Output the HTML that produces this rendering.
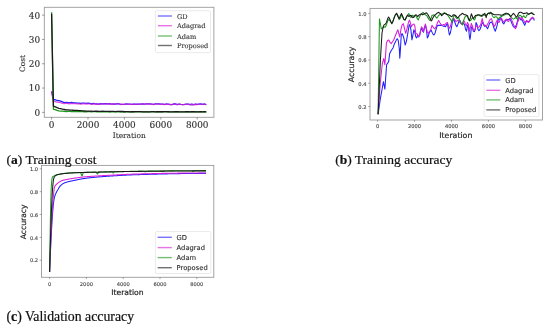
<!DOCTYPE html>
<html><head><meta charset="utf-8"><title>Figure</title>
<style>
html,body{margin:0;padding:0;background:#fff;}
body{width:550px;height:331px;overflow:hidden;}
svg{display:block;filter:blur(0.35px);}
.sf{font-family:"DejaVu Serif","Liberation Serif",serif;}
.ss{font-family:"DejaVu Sans","Liberation Sans",sans-serif;}
.tk{font-size:8.9px;fill:#333;stroke:#333;stroke-width:0.15px;}
.al{font-size:7.45px;fill:#333;stroke:#333;stroke-width:0.1px;}
.lg{font-size:6.62px;fill:#333;stroke:#333;stroke-width:0.1px;}
.tk2{font-size:5.2px;fill:#444;stroke:#444;stroke-width:0.12px;}
.al2{font-size:7.8px;fill:#222;stroke:#222;stroke-width:0.18px;}
.lg2{font-size:6.75px;fill:#333;stroke:#333;stroke-width:0.14px;}
.tk3{font-size:5.15px;fill:#444;stroke:#444;stroke-width:0.12px;}
.al3{font-size:7.65px;fill:#222;stroke:#222;stroke-width:0.18px;}
.lg3{font-size:6.75px;fill:#333;stroke:#333;stroke-width:0.14px;}
.cap{font-family:"Liberation Serif",serif;font-size:13.5px;fill:#111;stroke:#111;stroke-width:0.2px;}
.bd{font-weight:bold;}
</style></head>
<body>
<svg width="550" height="331" viewBox="0 0 550 331">
<rect x="44.3" y="7.3" width="169.60000000000002" height="110.0" fill="none" stroke="#9a9a9a" stroke-width="0.9"/>
<path d="M51.60,91.45 L53.42,99.71 L55.24,99.77 L57.06,100.49 L58.88,100.70 L60.70,101.11 L62.52,101.94 L64.34,102.60 L66.16,102.34 L67.98,102.64 L69.80,102.94 L71.62,102.32 L73.44,102.82 L75.26,102.80 L77.08,103.12 L78.90,103.08 L80.72,103.48 L82.54,103.20 L84.36,103.11 L86.18,103.41 L88.00,103.22 L89.82,103.46 L91.64,103.99 L93.46,103.46 L95.28,103.79 L97.10,103.99 L98.92,104.20 L100.74,103.61 L102.56,103.92 L104.38,103.76 L106.20,103.66 L108.02,103.80 L109.84,103.66 L111.66,104.06 L113.48,103.79 L115.30,104.06 L117.12,103.72 L118.94,103.78 L120.76,104.37 L122.58,104.36 L124.40,104.32 L126.22,103.78 L128.04,104.17 L129.86,104.04 L131.68,104.28 L133.50,104.14 L135.32,104.23 L137.14,104.26 L138.96,104.10 L140.78,104.10 L142.60,103.88 L144.42,104.04 L146.24,103.87 L148.06,103.93 L149.88,103.84 L151.70,104.08 L153.52,104.45 L155.34,103.95 L157.16,103.88 L158.98,103.93 L160.80,104.18 L162.62,104.08 L164.44,104.45 L166.26,104.01 L168.08,104.20 L169.90,104.42 L171.72,104.58 L173.54,104.01 L175.36,103.92 L177.18,104.58 L179.00,104.07 L180.82,104.36 L182.64,104.56 L184.46,104.46 L186.28,104.12 L188.10,104.05 L189.92,104.66 L191.74,104.25 L193.56,104.67 L195.38,104.18 L197.20,104.47 L199.02,104.08 L200.84,104.01 L202.66,104.36 L204.48,104.01 L206.30,104.52" fill="none" stroke="#1f1fff" stroke-opacity="1" stroke-width="1.3" stroke-linejoin="round"/>
<path d="M51.60,91.45 L53.42,101.36 L55.24,101.59 L57.06,102.16 L58.88,102.43 L60.70,102.66 L62.52,103.31 L64.34,103.59 L66.16,103.15 L67.98,103.65 L69.80,103.74 L71.62,103.26 L73.44,103.72 L75.26,103.53 L77.08,103.86 L78.90,103.82 L80.72,104.23 L82.54,103.89 L84.36,103.73 L86.18,103.99 L88.00,103.85 L89.82,103.91 L91.64,104.37 L93.46,103.87 L95.28,104.01 L97.10,104.23 L98.92,104.44 L100.74,103.84 L102.56,104.13 L104.38,103.96 L106.20,103.85 L108.02,103.98 L109.84,103.84 L111.66,104.23 L113.48,103.94 L115.30,104.21 L117.12,103.86 L118.94,103.91 L120.76,104.49 L122.58,104.47 L124.40,104.42 L126.22,103.88 L128.04,104.27 L129.86,104.13 L131.68,104.38 L133.50,104.23 L135.32,104.33 L137.14,104.36 L138.96,104.19 L140.78,104.20 L142.60,103.97 L144.42,104.14 L146.24,103.96 L148.06,104.02 L149.88,103.93 L151.70,104.17 L153.52,104.54 L155.34,104.04 L157.16,103.97 L158.98,104.02 L160.80,104.27 L162.62,104.17 L164.44,104.54 L166.26,104.09 L168.08,104.29 L169.90,104.50 L171.72,104.67 L173.54,104.10 L175.36,104.00 L177.18,104.67 L179.00,104.15 L180.82,104.44 L182.64,104.64 L184.46,104.54 L186.28,104.20 L188.10,104.13 L189.92,104.74 L191.74,104.33 L193.56,104.75 L195.38,104.26 L197.20,104.55 L199.02,104.15 L200.84,104.09 L202.66,104.44 L204.48,104.08 L206.30,104.59" fill="none" stroke="#d81ed8" stroke-opacity="0.78" stroke-width="1.3" stroke-linejoin="round"/>
<path d="M51.60,12.23 L53.42,109.36 L55.24,109.72 L57.06,110.36 L58.88,110.88 L60.70,111.16 L62.52,111.20 L64.34,111.31 L66.16,111.48 L67.98,111.37 L69.80,111.41 L71.62,111.58 L73.44,111.48 L75.26,111.56 L77.08,111.54 L78.90,111.66 L80.72,111.58 L82.54,111.58 L84.36,111.76 L86.18,111.76 L88.00,111.62 L89.82,111.56 L91.64,111.74 L93.46,111.69 L95.28,111.67 L97.10,111.74 L98.92,111.74 L100.74,111.76 L102.56,111.75 L104.38,111.71 L106.20,111.79 L108.02,111.78 L109.84,111.69 L111.66,111.88 L113.48,111.75 L115.30,111.72 L117.12,111.83 L118.94,111.86 L120.76,111.73 L122.58,111.87 L124.40,111.89 L126.22,111.83 L128.04,111.77 L129.86,111.92 L131.68,111.86 L133.50,111.86 L135.32,111.74 L137.14,111.84 L138.96,111.74 L140.78,111.91 L142.60,111.87 L144.42,111.79 L146.24,111.73 L148.06,111.84 L149.88,111.90 L151.70,111.92 L153.52,111.83 L155.34,111.91 L157.16,111.76 L158.98,111.75 L160.80,111.91 L162.62,111.89 L164.44,111.76 L166.26,111.81 L168.08,111.77 L169.90,111.88 L171.72,111.93 L173.54,111.90 L175.36,111.77 L177.18,111.90 L179.00,111.89 L180.82,111.87 L182.64,111.87 L184.46,111.87 L186.28,111.75 L188.10,111.94 L189.92,111.97 L191.74,111.75 L193.56,111.76 L195.38,111.74 L197.20,111.87 L199.02,111.75 L200.84,111.76 L202.66,111.93 L204.48,111.80 L206.30,111.78" fill="none" stroke="#1e961e" stroke-opacity="1" stroke-width="1.3" stroke-linejoin="round"/>
<path d="M51.60,13.69 L53.42,106.09 L55.24,106.83 L57.06,107.59 L58.88,108.28 L60.70,108.74 L62.52,109.21 L64.34,109.51 L66.16,109.86 L67.98,109.85 L69.80,110.16 L71.62,110.07 L73.44,110.24 L75.26,110.31 L77.08,110.43 L78.90,110.55 L80.72,110.71 L82.54,110.92 L84.36,110.82 L86.18,111.03 L88.00,111.08 L89.82,111.07 L91.64,111.17 L93.46,111.28 L95.28,111.17 L97.10,111.27 L98.92,111.36 L100.74,111.40 L102.56,111.27 L104.38,111.39 L106.20,111.33 L108.02,111.46 L109.84,111.52 L111.66,111.45 L113.48,111.41 L115.30,111.58 L117.12,111.45 L118.94,111.44 L120.76,111.49 L122.58,111.51 L124.40,111.73 L126.22,111.60 L128.04,111.56 L129.86,111.78 L131.68,111.73 L133.50,111.73 L135.32,111.67 L137.14,111.70 L138.96,111.69 L140.78,111.62 L142.60,111.81 L144.42,111.80 L146.24,111.79 L148.06,111.79 L149.88,111.81 L151.70,111.59 L153.52,111.62 L155.34,111.81 L157.16,111.71 L158.98,111.76 L160.80,111.76 L162.62,111.76 L164.44,111.69 L166.26,111.71 L168.08,111.76 L169.90,111.81 L171.72,111.78 L173.54,111.83 L175.36,111.73 L177.18,111.69 L179.00,111.78 L180.82,111.85 L182.64,111.83 L184.46,111.79 L186.28,111.73 L188.10,111.69 L189.92,111.79 L191.74,111.69 L193.56,111.74 L195.38,111.79 L197.20,111.81 L199.02,111.78 L200.84,111.73 L202.66,111.80 L204.48,111.74 L206.30,111.80" fill="none" stroke="#1a1a1a" stroke-opacity="1" stroke-width="1.3" stroke-linejoin="round"/>
<line x1="51.60" y1="117.3" x2="51.60" y2="119.5" stroke="#555" stroke-width="0.6"/>
<text x="51.60" y="128.2" class="sf tk" text-anchor="middle">0</text>
<line x1="88.00" y1="117.3" x2="88.00" y2="119.5" stroke="#555" stroke-width="0.6"/>
<text x="88.00" y="128.2" class="sf tk" text-anchor="middle">2000</text>
<line x1="124.40" y1="117.3" x2="124.40" y2="119.5" stroke="#555" stroke-width="0.6"/>
<text x="124.40" y="128.2" class="sf tk" text-anchor="middle">4000</text>
<line x1="160.80" y1="117.3" x2="160.80" y2="119.5" stroke="#555" stroke-width="0.6"/>
<text x="160.80" y="128.2" class="sf tk" text-anchor="middle">6000</text>
<line x1="197.20" y1="117.3" x2="197.20" y2="119.5" stroke="#555" stroke-width="0.6"/>
<text x="197.20" y="128.2" class="sf tk" text-anchor="middle">8000</text>
<line x1="42.099999999999994" y1="112.35" x2="44.3" y2="112.35" stroke="#555" stroke-width="0.6"/>
<text x="40.099999999999994" y="115.70" class="sf tk" text-anchor="end">0</text>
<line x1="42.099999999999994" y1="88.05" x2="44.3" y2="88.05" stroke="#555" stroke-width="0.6"/>
<text x="40.099999999999994" y="91.40" class="sf tk" text-anchor="end">10</text>
<line x1="42.099999999999994" y1="63.75" x2="44.3" y2="63.75" stroke="#555" stroke-width="0.6"/>
<text x="40.099999999999994" y="67.10" class="sf tk" text-anchor="end">20</text>
<line x1="42.099999999999994" y1="39.45" x2="44.3" y2="39.45" stroke="#555" stroke-width="0.6"/>
<text x="40.099999999999994" y="42.80" class="sf tk" text-anchor="end">30</text>
<line x1="42.099999999999994" y1="15.15" x2="44.3" y2="15.15" stroke="#555" stroke-width="0.6"/>
<text x="40.099999999999994" y="18.50" class="sf tk" text-anchor="end">40</text>
<text x="129.2" y="138.2" class="sf al" text-anchor="middle">Iteration</text>
<text transform="translate(25.3,63.4) rotate(-90)" class="sf al" text-anchor="middle">Cost</text>
<rect x="155.3" y="10.7" width="55.2" height="41.9" rx="1.5" fill="#fff" fill-opacity="0.8" stroke="#dcdcdc" stroke-width="0.6"/>
<line x1="157.9" y1="16.0" x2="171.9" y2="16.0" stroke="#1f1fff" stroke-width="1.4" stroke-opacity="0.62"/>
<text x="177.0" y="18.60" class="sf lg">GD</text>
<line x1="157.9" y1="25.7" x2="171.9" y2="25.7" stroke="#d81ed8" stroke-width="1.4" stroke-opacity="0.62"/>
<text x="177.0" y="28.30" class="sf lg">Adagrad</text>
<line x1="157.9" y1="36.0" x2="171.9" y2="36.0" stroke="#1e961e" stroke-width="1.4" stroke-opacity="0.62"/>
<text x="177.0" y="38.60" class="sf lg">Adam</text>
<line x1="157.9" y1="45.5" x2="171.9" y2="45.5" stroke="#1a1a1a" stroke-width="1.4" stroke-opacity="0.62"/>
<text x="177.0" y="48.10" class="sf lg">Proposed</text>
<rect x="370.0" y="8.4" width="172.5" height="111.6" fill="none" stroke="#9a9a9a" stroke-width="0.9"/>
<path d="M378.10,114.20 L380.20,99.70 L382.30,88.00 L383.40,81.70 L384.90,89.10 L386.60,64.80 L388.70,61.60 L389.60,53.80 L391.10,50.80 L392.30,49.00 L393.05,47.95 L394.26,44.21 L395.47,41.79 L396.67,39.38 L397.20,38.77 L398.20,40.34 L399.30,48.55 L399.80,58.33 L400.30,51.57 L401.29,34.19 L402.30,33.71 L403.90,38.29 L405.20,45.05 L406.40,41.43 L408.00,32.14 L409.22,24.53 L409.97,25.26 L410.97,30.20 L411.93,39.85 L412.90,35.03 L413.86,29.72 L414.83,32.13 L415.79,36.96 L416.76,37.92 L417.72,35.03 L418.69,36.96 L419.65,35.03 L420.62,30.68 L421.58,27.79 L422.55,31.17 L423.51,32.13 L424.48,27.31 L425.44,25.86 L426.41,29.72 L427.37,37.92 L428.34,35.99 L429.31,32.61 L430.27,31.17 L431.24,30.20 L432.00,32.13 L432.97,34.06 L433.93,35.03 L434.90,33.58 L435.86,30.20 L436.83,26.82 L437.79,25.37 L438.76,25.37 L439.72,25.37 L440.69,25.37 L441.65,25.37 L442.62,25.86 L443.58,26.34 L444.55,26.34 L445.51,26.82 L446.48,24.89 L447.44,23.44 L448.41,29.24 L449.37,35.03 L450.34,33.10 L451.31,28.27 L452.27,22.48 L453.24,19.58 L454.00,19.58 L454.97,22.48 L455.93,25.37 L456.90,26.82 L457.86,24.41 L458.83,21.51 L459.79,20.55 L460.76,22.48 L461.72,23.93 L462.69,23.44 L463.65,23.44 L464.62,24.89 L465.58,29.24 L466.55,31.17 L467.51,25.37 L468.48,27.31 L469.44,36.96 L469.93,39.37 L470.41,36.96 L471.37,27.31 L472.34,26.34 L473.31,31.17 L474.27,31.65 L475.24,29.72 L476.00,22.48 L476.97,24.41 L477.93,29.24 L478.90,30.68 L479.86,29.72 L480.83,27.31 L481.79,23.93 L482.76,22.48 L483.72,24.89 L484.69,26.34 L485.65,25.86 L486.62,27.31 L487.58,28.75 L488.55,26.34 L489.51,23.44 L490.48,22.48 L491.44,22.00 L492.41,23.44 L493.37,26.34 L494.34,29.24 L495.31,31.17 L496.27,28.27 L497.24,24.89 L498.00,19.58 L498.97,20.07 L499.93,18.62 L500.90,17.65 L501.86,20.07 L502.83,22.96 L503.79,23.93 L504.76,22.00 L505.72,20.55 L506.69,20.07 L507.65,19.58 L508.62,19.58 L509.58,18.62 L510.55,20.07 L511.51,22.48 L512.48,24.89 L513.44,26.82 L514.41,27.31 L515.37,26.82 L516.34,24.89 L517.31,22.00 L517.99,18.86 L518.97,17.17 L519.93,18.62 L520.90,20.07 L521.86,19.58 L522.83,21.51 L523.79,23.44 L524.76,25.37 L525.72,22.48 L526.69,20.55 L527.65,21.51 L528.62,22.00 L529.58,21.03 L530.55,19.58 L531.51,18.62 L532.48,17.65 L533.44,18.62 L534.41,20.55" fill="none" stroke="#1f1fff" stroke-width="1.05" stroke-linejoin="round"/>
<path d="M378.10,114.20 L380.20,83.80 L382.30,63.70 L383.80,58.50 L384.90,64.80 L386.41,43.00 L387.62,40.59 L388.83,39.98 L390.03,42.40 L391.24,43.60 L392.45,41.79 L393.65,39.98 L394.86,36.96 L396.07,33.95 L397.03,31.53 L397.88,29.72 L398.72,33.34 L399.69,36.96 L400.90,29.72 L402.10,24.90 L403.31,23.69 L404.52,28.52 L405.72,33.34 L406.93,29.12 L408.14,23.69 L409.34,20.07 L409.97,21.27 L411.45,26.82 L412.41,24.89 L413.86,23.93 L414.83,25.86 L415.79,33.58 L417.24,34.06 L418.20,36.47 L419.65,35.51 L420.62,30.20 L421.58,26.82 L422.55,28.75 L423.51,31.65 L424.48,26.82 L425.44,23.93 L426.41,28.27 L427.37,32.13 L428.34,33.58 L429.31,31.65 L430.75,29.72 L432.00,25.37 L432.97,26.82 L433.93,28.27 L434.90,28.75 L435.86,27.31 L436.83,24.41 L437.79,22.00 L438.76,20.55 L439.72,22.48 L440.69,23.93 L441.65,25.37 L442.62,24.89 L443.58,24.41 L444.55,25.37 L445.51,23.93 L446.48,22.96 L447.44,22.48 L448.41,25.86 L449.37,28.27 L450.34,26.82 L451.31,22.96 L452.27,19.58 L453.24,18.62 L454.00,18.62 L454.97,20.07 L455.93,21.51 L456.90,21.03 L457.86,20.07 L458.83,20.55 L459.79,22.48 L460.76,23.44 L461.72,23.93 L462.69,22.48 L463.65,20.55 L464.62,22.00 L465.58,24.41 L466.55,25.86 L467.51,22.48 L468.48,24.41 L469.44,31.17 L470.41,27.31 L471.37,23.44 L472.34,25.86 L473.31,30.20 L474.27,30.68 L475.24,28.75 L476.00,25.37 L476.97,26.34 L477.93,27.31 L478.90,27.31 L479.86,25.86 L480.83,24.41 L481.79,20.07 L482.27,18.62 L482.76,21.51 L483.72,24.41 L484.69,25.86 L485.65,25.37 L486.62,26.34 L487.58,23.93 L488.55,22.48 L489.51,20.55 L490.48,19.10 L491.44,18.62 L492.41,21.51 L493.37,24.41 L494.34,26.34 L495.31,24.89 L496.27,22.00 L497.24,20.07 L498.00,22.00 L498.97,22.48 L499.93,20.55 L500.90,18.14 L501.86,19.10 L502.83,21.03 L503.79,22.00 L504.76,20.55 L505.72,19.58 L506.69,19.10 L507.65,21.03 L508.62,21.51 L509.58,19.10 L510.55,18.14 L511.51,19.58 L512.48,22.00 L513.44,24.41 L514.41,26.82 L515.37,28.75 L516.34,27.31 L517.31,23.44 L517.99,20.07 L518.48,21.03 L518.97,18.62 L519.93,17.65 L520.90,19.10 L521.86,17.17 L522.83,19.10 L523.79,20.55 L524.76,22.48 L525.72,21.51 L526.69,20.55 L527.65,22.00 L528.62,22.48 L529.58,20.55 L530.55,19.10 L531.51,18.14 L532.48,17.17 L533.44,18.14 L534.41,19.10" fill="none" stroke="#d81ed8" stroke-width="1.05" stroke-linejoin="round"/>
<path d="M378.10,114.20 L379.45,18.90 L381.30,28.90 L383.10,27.40 L384.00,26.71 L385.21,27.31 L386.41,24.90 L387.62,21.28 L388.59,19.47 L389.43,20.07 L390.64,21.88 L391.84,23.09 L393.05,20.67 L394.26,17.05 L395.47,14.64 L396.67,13.43 L397.88,15.24 L399.09,19.47 L400.29,18.26 L401.50,14.64 L402.71,17.05 L403.91,19.47 L405.12,20.07 L406.33,17.65 L407.53,15.24 L408.74,13.43 L409.97,16.21 L410.97,17.65 L411.93,15.72 L412.90,15.24 L413.86,16.69 L414.83,15.24 L415.79,15.72 L417.24,18.62 L418.20,20.07 L419.17,17.65 L420.14,15.72 L421.10,14.27 L422.07,13.31 L423.03,12.34 L424.00,13.31 L424.96,14.27 L425.93,15.24 L426.89,15.72 L427.86,17.65 L428.82,19.10 L429.79,20.55 L430.75,19.58 L432.00,15.24 L432.97,15.24 L433.93,14.76 L434.90,15.72 L435.86,17.17 L436.83,18.14 L437.79,16.69 L438.76,15.24 L439.72,14.76 L440.69,14.27 L441.65,14.27 L442.62,13.79 L443.58,13.31 L444.55,12.83 L445.51,13.31 L446.48,13.79 L447.44,14.76 L448.41,16.20 L449.37,17.65 L450.34,19.10 L451.31,20.55 L451.79,22.00 L452.46,20.55 L453.24,17.65 L454.00,15.24 L454.97,15.72 L455.93,17.65 L456.90,18.62 L457.86,18.14 L458.83,17.65 L459.79,20.55 L460.76,22.48 L461.72,23.93 L462.69,24.89 L463.65,20.55 L464.62,17.65 L465.58,16.20 L466.55,15.72 L467.51,16.69 L468.48,19.58 L469.44,21.03 L470.41,20.55 L471.37,19.58 L472.34,17.65 L473.31,18.62 L474.27,20.07 L475.24,18.62 L476.00,15.72 L476.97,15.72 L477.93,15.24 L478.90,15.24 L479.86,15.72 L480.83,16.20 L481.79,15.72 L482.76,14.27 L483.72,14.76 L484.69,15.24 L485.65,15.24 L486.62,14.76 L487.58,13.79 L488.55,13.31 L489.51,12.83 L490.48,12.34 L491.44,12.83 L492.41,15.72 L493.37,17.17 L494.34,17.65 L495.31,16.69 L496.27,16.69 L497.24,17.65 L498.00,19.10 L498.97,18.14 L499.93,17.17 L500.90,16.69 L501.86,16.20 L502.83,15.72 L503.79,15.24 L504.76,14.76 L505.72,14.27 L506.69,14.27 L507.65,13.79 L508.62,13.79 L509.58,14.76 L510.55,16.20 L511.51,17.65 L512.48,18.62 L513.44,19.10 L514.41,18.62 L515.37,17.65 L516.34,18.14 L517.31,19.10 L517.99,17.41 L518.97,15.72 L519.93,15.24 L520.90,15.72 L521.86,17.17 L522.83,16.69 L523.79,15.72 L524.76,17.17 L525.72,17.65 L526.69,15.24 L527.65,14.76 L528.62,14.27 L529.58,13.79 L530.55,13.31 L531.51,13.31 L532.48,13.79 L533.44,14.27 L534.41,14.76" fill="none" stroke="#1e961e" stroke-width="1.05" stroke-linejoin="round"/>
<path d="M378.10,114.20 L380.40,60.00 L382.00,33.00 L383.20,27.00 L384.00,24.90 L385.21,24.29 L386.41,22.48 L387.62,18.86 L388.59,17.05 L389.43,18.26 L390.64,21.28 L391.84,23.69 L393.05,21.28 L394.26,17.65 L395.47,14.64 L396.67,13.43 L397.88,16.45 L399.09,18.86 L400.29,15.84 L401.50,13.43 L402.71,16.45 L403.91,19.47 L405.12,20.07 L406.33,17.05 L407.53,15.24 L408.74,16.45 L409.97,15.78 L410.97,15.24 L411.93,16.69 L412.90,17.65 L413.86,17.17 L414.83,15.72 L415.79,14.76 L416.76,15.24 L417.72,16.69 L418.69,15.24 L419.65,14.76 L420.62,14.27 L421.58,13.79 L422.55,14.76 L423.51,14.27 L424.48,13.79 L425.44,13.31 L426.41,12.83 L427.37,13.79 L428.34,15.24 L429.31,17.17 L430.27,18.62 L431.24,21.03 L432.00,20.07 L432.97,17.65 L433.93,16.20 L434.90,15.24 L435.86,14.27 L436.83,13.31 L437.79,12.83 L438.76,12.34 L439.72,13.31 L440.69,13.79 L441.65,15.72 L442.62,14.76 L443.58,13.79 L444.55,13.31 L445.51,13.79 L446.48,14.27 L447.44,14.76 L448.41,14.76 L449.37,15.24 L450.34,15.72 L451.31,16.69 L452.27,16.20 L453.24,14.76 L454.00,14.76 L454.97,15.24 L455.93,15.72 L456.90,17.17 L457.86,17.65 L458.83,16.69 L459.79,15.24 L460.76,14.76 L461.72,13.79 L462.69,13.31 L463.65,14.27 L464.62,14.76 L465.58,14.76 L466.55,15.24 L467.51,15.72 L468.48,18.62 L469.44,20.55 L470.41,17.65 L471.37,13.79 L472.34,16.20 L473.31,18.62 L474.27,17.17 L475.24,15.72 L476.00,15.24 L476.97,15.24 L477.93,14.76 L478.90,14.76 L479.86,15.24 L480.83,15.24 L481.79,16.20 L482.76,15.72 L483.72,14.27 L484.69,13.31 L485.65,15.72 L486.14,17.65 L486.62,15.72 L487.58,13.79 L488.55,13.31 L489.51,13.79 L490.48,12.83 L491.44,13.31 L492.41,13.79 L493.37,14.27 L494.34,14.76 L495.31,14.76 L496.27,14.76 L497.24,14.76 L498.00,14.76 L498.97,14.76 L499.93,14.76 L500.90,15.24 L501.86,15.24 L502.83,14.76 L503.79,14.27 L504.76,13.79 L505.72,13.31 L506.69,13.31 L507.65,13.79 L508.62,14.27 L509.58,15.24 L510.55,16.69 L511.51,15.72 L512.48,14.27 L513.44,13.31 L514.41,14.27 L515.37,15.72 L516.34,17.17 L517.31,16.20 L517.99,14.52 L518.97,12.83 L519.93,12.34 L520.90,12.34 L521.86,12.83 L522.83,13.31 L523.79,13.79 L524.76,13.31 L525.72,13.31 L526.69,12.83 L527.65,13.31 L528.62,14.27 L529.58,13.79 L530.55,13.31 L531.51,12.83 L532.48,13.31 L533.44,14.27 L534.41,14.76" fill="none" stroke="#1a1a1a" stroke-width="1.05" stroke-linejoin="round"/>
<line x1="377.60" y1="120.0" x2="377.60" y2="121.8" stroke="#555" stroke-width="0.5"/>
<text x="377.60" y="128.4" class="ss tk2" text-anchor="middle">0</text>
<line x1="414.55" y1="120.0" x2="414.55" y2="121.8" stroke="#555" stroke-width="0.5"/>
<text x="414.55" y="128.4" class="ss tk2" text-anchor="middle">2000</text>
<line x1="451.50" y1="120.0" x2="451.50" y2="121.8" stroke="#555" stroke-width="0.5"/>
<text x="451.50" y="128.4" class="ss tk2" text-anchor="middle">4000</text>
<line x1="488.45" y1="120.0" x2="488.45" y2="121.8" stroke="#555" stroke-width="0.5"/>
<text x="488.45" y="128.4" class="ss tk2" text-anchor="middle">6000</text>
<line x1="525.40" y1="120.0" x2="525.40" y2="121.8" stroke="#555" stroke-width="0.5"/>
<text x="525.40" y="128.4" class="ss tk2" text-anchor="middle">8000</text>
<line x1="368.2" y1="106.52" x2="370.0" y2="106.52" stroke="#555" stroke-width="0.5"/>
<text x="366.6" y="109.02" class="ss tk2" text-anchor="end">0.2</text>
<line x1="368.2" y1="83.24" x2="370.0" y2="83.24" stroke="#555" stroke-width="0.5"/>
<text x="366.6" y="85.74" class="ss tk2" text-anchor="end">0.4</text>
<line x1="368.2" y1="59.96" x2="370.0" y2="59.96" stroke="#555" stroke-width="0.5"/>
<text x="366.6" y="62.46" class="ss tk2" text-anchor="end">0.6</text>
<line x1="368.2" y1="36.68" x2="370.0" y2="36.68" stroke="#555" stroke-width="0.5"/>
<text x="366.6" y="39.18" class="ss tk2" text-anchor="end">0.8</text>
<line x1="368.2" y1="13.40" x2="370.0" y2="13.40" stroke="#555" stroke-width="0.5"/>
<text x="366.6" y="15.90" class="ss tk2" text-anchor="end">1.0</text>
<text x="455.8" y="138.0" class="ss al2" text-anchor="middle">Iteration</text>
<text transform="translate(354.0,64.5) rotate(-90)" class="ss al2" text-anchor="middle">Accuracy</text>
<rect x="484.1" y="74.6" width="54.9" height="41.9" rx="1.5" fill="#fff" fill-opacity="0.8" stroke="#dcdcdc" stroke-width="0.6"/>
<line x1="486.3" y1="80.0" x2="500.3" y2="80.0" stroke="#1f1fff" stroke-width="1.4" stroke-opacity="0.62"/>
<text x="505.2" y="82.50" class="ss lg2">GD</text>
<line x1="486.3" y1="90.3" x2="500.3" y2="90.3" stroke="#d81ed8" stroke-width="1.4" stroke-opacity="0.62"/>
<text x="505.2" y="92.80" class="ss lg2">Adagrad</text>
<line x1="486.3" y1="99.9" x2="500.3" y2="99.9" stroke="#1e961e" stroke-width="1.4" stroke-opacity="0.62"/>
<text x="505.2" y="102.40" class="ss lg2">Adam</text>
<line x1="486.3" y1="109.9" x2="500.3" y2="109.9" stroke="#1a1a1a" stroke-width="1.4" stroke-opacity="0.62"/>
<text x="505.2" y="112.40" class="ss lg2">Proposed</text>
<rect x="41.5" y="165.4" width="172.3" height="111.9" fill="none" stroke="#9a9a9a" stroke-width="0.9"/>
<path d="M49.60,272.08 L49.78,267.44 L49.97,262.92 L50.15,258.53 L50.34,254.26 L50.52,250.11 L50.70,246.11 L50.89,242.23 L51.07,238.49 L51.26,234.89 L51.44,231.44 L51.62,228.13 L51.81,224.96 L51.99,221.95 L52.18,219.09 L52.36,216.38 L52.54,213.84 L52.73,211.45 L52.91,209.23 L53.10,207.17 L53.28,205.29 L53.46,203.57 L53.65,202.03 L53.83,200.67 L54.02,199.48 L54.20,198.48 L54.38,197.65 L54.57,196.94 L54.75,196.31 L54.94,195.75 L55.12,195.25 L55.30,194.79 L55.49,194.35 L55.67,193.92 L55.86,193.49 L56.04,193.08 L56.22,192.69 L56.41,192.31 L56.59,191.95 L56.78,191.60 L56.96,191.26 L57.14,190.93 L57.33,190.60 L57.51,190.28 L57.70,189.95 L57.88,189.62 L58.06,189.29 L58.25,188.96 L58.43,188.63 L58.62,188.31 L58.80,188.00 L58.98,187.70 L59.17,187.40 L59.35,187.12 L59.54,186.86 L59.72,186.61 L59.90,186.38 L60.09,186.17 L60.27,185.97 L60.46,185.78 L60.64,185.59 L60.82,185.41 L61.01,185.24 L61.19,185.07 L61.38,184.90 L61.56,184.75 L61.74,184.59 L61.93,184.44 L62.11,184.30 L62.30,184.17 L62.48,184.03 L62.66,183.91 L62.85,183.79 L63.03,183.67 L63.22,183.56 L63.40,183.46 L63.58,183.36 L63.77,183.26 L63.95,183.17 L64.14,183.09 L64.32,183.00 L64.50,182.92 L64.69,182.84 L64.87,182.77 L65.06,182.70 L65.24,182.63 L65.42,182.56 L65.61,182.49 L65.79,182.43 L65.98,182.37 L66.16,182.31 L66.34,182.25 L66.53,182.20 L66.71,182.14 L66.90,182.09 L67.08,182.03 L67.26,181.98 L67.45,181.93 L67.63,181.88 L67.82,181.83 L68.00,181.78 L68.18,181.73 L68.37,181.68 L68.55,181.64 L68.74,181.59 L68.92,181.54 L69.10,181.50 L69.29,181.46 L69.47,181.41 L69.66,181.37 L69.84,181.33 L70.02,181.29 L70.21,181.25 L70.39,181.20 L70.58,181.16 L70.76,181.13 L70.94,181.09 L71.13,181.05 L71.31,181.01 L71.50,180.97 L71.68,180.93 L71.86,180.89 L72.05,180.86 L72.23,180.82 L72.42,180.78 L72.60,180.75 L72.78,180.71 L72.97,180.67 L73.15,180.64 L73.34,180.60 L73.52,180.56 L73.70,180.53 L73.89,180.49 L74.07,180.45 L74.26,180.42 L74.44,180.38 L74.62,180.34 L74.81,180.30 L74.99,180.27 L75.18,180.23 L75.36,180.19 L75.54,180.15 L75.73,180.11 L75.91,180.08 L76.10,180.04 L76.28,180.00 L76.46,179.96 L76.65,179.92 L76.83,179.88 L77.02,179.84 L77.20,179.81 L77.38,179.77 L77.57,179.73 L77.75,179.69 L77.94,179.65 L78.12,179.61 L78.30,179.57 L78.49,179.54 L78.67,179.50 L78.86,179.46 L79.04,179.42 L79.22,179.39 L79.41,179.35 L79.59,179.31 L79.78,179.27 L79.96,179.24 L80.14,179.20 L80.33,179.16 L80.51,179.13 L80.70,179.09 L80.88,179.06 L81.06,179.02 L81.25,178.99 L81.43,178.96 L81.62,178.92 L81.80,178.89 L81.98,178.86 L82.17,178.82 L82.35,178.79 L82.54,178.76 L82.72,178.73 L82.90,178.70 L83.09,178.67 L83.27,178.64 L83.46,178.61 L83.64,178.58 L83.82,178.55 L84.01,178.52 L84.19,178.50 L84.38,178.47 L84.56,178.45 L84.74,178.42 L84.93,178.39 L85.11,178.37 L85.30,178.34 L85.48,178.32 L85.66,178.29 L85.85,178.27 L86.03,178.24 L86.22,178.22 L86.40,178.19 L86.58,178.17 L86.77,178.15 L86.95,178.12 L87.14,178.10 L87.32,178.08 L87.50,178.05 L87.69,178.03 L87.87,178.01 L88.06,177.99 L88.24,177.96 L88.42,177.94 L88.61,177.92 L88.79,177.90 L88.98,177.88 L89.16,177.86 L89.34,177.83 L89.53,177.81 L89.71,177.79 L89.90,177.77 L90.08,177.75 L90.26,177.73 L90.45,177.71 L90.63,177.69 L90.82,177.67 L91.00,177.65 L91.18,177.63 L91.37,177.61 L91.55,177.59 L91.74,177.57 L91.92,177.55 L92.10,177.54 L92.29,177.52 L92.47,177.50 L92.66,177.48 L92.84,177.46 L93.02,177.44 L93.21,177.43 L93.39,177.41 L93.58,177.39 L93.76,177.37 L93.94,177.35 L94.13,177.34 L94.31,177.32 L94.50,177.30 L94.68,177.28 L94.86,177.27 L95.05,177.25 L95.23,177.23 L95.42,177.22 L95.60,177.20 L95.78,177.18 L95.97,177.16 L96.15,177.15 L96.34,177.13 L96.52,177.11 L96.70,177.10 L96.89,177.08 L97.07,177.07 L97.26,177.05 L97.44,177.03 L97.62,177.02 L97.81,177.00 L97.99,176.99 L98.18,176.97 L98.36,176.95 L98.54,176.94 L98.73,176.92 L98.91,176.91 L99.10,176.89 L99.28,176.88 L99.46,176.86 L99.65,176.84 L99.83,176.83 L100.02,176.81 L100.20,176.80 L100.38,176.78 L100.57,176.77 L100.75,176.75 L100.94,176.74 L101.12,176.72 L101.30,176.71 L101.49,176.70 L101.67,176.68 L101.86,176.67 L102.04,176.65 L102.22,176.64 L102.41,176.62 L102.59,176.61 L102.78,176.59 L102.96,176.58 L103.14,176.57 L103.33,176.55 L103.51,176.54 L103.70,176.52 L103.88,176.51 L104.06,176.50 L104.25,176.48 L104.43,176.47 L104.62,176.46 L104.80,176.44 L104.98,176.43 L105.17,176.41 L105.35,176.40 L105.54,176.39 L105.72,176.37 L105.90,176.36 L106.09,176.35 L106.27,176.34 L106.46,176.32 L106.64,176.31 L106.82,176.30 L107.01,176.28 L107.19,176.27 L107.38,176.26 L107.56,176.24 L107.74,176.23 L107.93,176.22 L108.11,176.21 L108.30,176.19 L108.48,176.18 L108.66,176.17 L108.85,176.16 L109.03,176.14 L109.22,176.13 L109.40,176.12 L109.58,176.11 L109.77,176.10 L109.95,176.08 L110.14,176.07 L110.32,176.06 L110.50,176.05 L110.69,176.04 L110.87,176.02 L111.06,176.01 L111.24,176.00 L111.42,175.99 L111.61,175.98 L111.79,175.96 L111.98,175.95 L112.16,175.94 L112.34,175.93 L112.53,175.92 L112.71,175.91 L112.90,175.89 L113.08,175.88 L113.26,175.87 L113.45,175.86 L113.63,175.85 L113.82,175.84 L114.00,175.83 L114.18,175.82 L114.37,175.80 L114.55,175.79 L114.74,175.78 L114.92,175.77 L115.10,175.76 L115.29,175.75 L115.47,175.74 L115.66,175.72 L115.84,175.71 L116.02,175.70 L116.21,175.69 L116.39,175.68 L116.58,175.67 L116.76,175.66 L116.94,175.65 L117.13,175.63 L117.31,175.62 L117.50,175.61 L117.68,175.60 L117.86,175.59 L118.05,175.58 L118.23,175.57 L118.42,175.56 L118.60,175.54 L118.78,175.53 L118.97,175.52 L119.15,175.51 L119.34,175.50 L119.52,175.49 L119.70,175.48 L119.89,175.47 L120.07,175.46 L120.26,175.45 L120.44,175.43 L120.62,175.42 L120.81,175.41 L120.99,175.40 L121.18,175.39 L121.36,175.38 L121.54,175.37 L121.73,175.36 L121.91,175.35 L122.10,175.34 L122.28,175.33 L122.46,175.32 L122.65,175.31 L122.83,175.30 L123.02,175.29 L123.20,175.28 L123.38,175.27 L123.57,175.26 L123.75,175.25 L123.94,175.24 L124.12,175.23 L124.30,175.22 L124.49,175.21 L124.67,175.20 L124.86,175.19 L125.04,175.18 L125.22,175.17 L125.41,175.16 L125.59,175.15 L125.78,175.14 L125.96,175.13 L126.14,175.12 L126.33,175.11 L126.51,175.10 L126.70,175.09 L126.88,175.08 L127.06,175.07 L127.25,175.06 L127.43,175.05 L127.62,175.05 L127.80,175.04 L127.98,175.03 L128.17,175.02 L128.35,175.01 L128.54,175.00 L128.72,174.99 L128.90,174.98 L129.09,174.98 L129.27,174.97 L129.46,174.96 L129.64,174.95 L129.82,174.94 L130.01,174.93 L130.19,174.93 L130.38,174.92 L130.56,174.91 L130.74,174.90 L130.93,174.89 L131.11,174.89 L131.30,174.88 L131.48,174.87 L131.66,174.86 L131.85,174.86 L132.03,174.85 L132.22,174.84 L132.40,174.84 L132.58,174.83 L132.77,174.82 L132.95,174.82 L133.14,174.81 L133.32,174.80 L133.50,174.80 L133.69,174.79 L133.87,174.78 L134.06,174.78 L134.24,174.77 L134.42,174.76 L134.61,174.76 L134.79,174.75 L134.98,174.75 L135.16,174.74 L135.34,174.74 L135.53,174.73 L135.71,174.72 L135.90,174.72 L136.08,174.71 L136.26,174.71 L136.45,174.70 L136.63,174.70 L136.82,174.69 L137.00,174.68 L137.18,174.68 L137.37,174.67 L137.55,174.67 L137.74,174.66 L137.92,174.66 L138.10,174.65 L138.29,174.65 L138.47,174.64 L138.66,174.63 L138.84,174.63 L139.02,174.62 L139.21,174.62 L139.39,174.61 L139.58,174.61 L139.76,174.60 L139.94,174.60 L140.13,174.59 L140.31,174.58 L140.50,174.58 L140.68,174.57 L140.86,174.57 L141.05,174.56 L141.23,174.56 L141.42,174.55 L141.60,174.55 L141.78,174.54 L141.97,174.54 L142.15,174.53 L142.34,174.52 L142.52,174.52 L142.70,174.51 L142.89,174.51 L143.07,174.50 L143.26,174.50 L143.44,174.49 L143.62,174.49 L143.81,174.48 L143.99,174.48 L144.18,174.47 L144.36,174.46 L144.54,174.46 L144.73,174.45 L144.91,174.45 L145.10,174.44 L145.28,174.44 L145.46,174.43 L145.65,174.43 L145.83,174.42 L146.02,174.42 L146.20,174.41 L146.38,174.41 L146.57,174.40 L146.75,174.39 L146.94,174.39 L147.12,174.38 L147.30,174.38 L147.49,174.37 L147.67,174.37 L147.86,174.36 L148.04,174.36 L148.22,174.35 L148.41,174.35 L148.59,174.34 L148.78,174.34 L148.96,174.33 L149.14,174.33 L149.33,174.32 L149.51,174.32 L149.70,174.31 L149.88,174.31 L150.06,174.30 L150.25,174.29 L150.43,174.29 L150.62,174.28 L150.80,174.28 L150.98,174.27 L151.17,174.27 L151.35,174.26 L151.54,174.26 L151.72,174.25 L151.90,174.25 L152.09,174.24 L152.27,174.24 L152.46,174.23 L152.64,174.23 L152.82,174.22 L153.01,174.22 L153.19,174.21 L153.38,174.21 L153.56,174.20 L153.74,174.20 L153.93,174.19 L154.11,174.19 L154.30,174.18 L154.48,174.18 L154.66,174.17 L154.85,174.17 L155.03,174.16 L155.22,174.16 L155.40,174.15 L155.58,174.15 L155.77,174.14 L155.95,174.14 L156.14,174.13 L156.32,174.13 L156.50,174.12 L156.69,174.12 L156.87,174.11 L157.06,174.11 L157.24,174.10 L157.42,174.10 L157.61,174.09 L157.79,174.09 L157.98,174.08 L158.16,174.08 L158.34,174.08 L158.53,174.07 L158.71,174.07 L158.90,174.06 L159.08,174.06 L159.26,174.05 L159.45,174.05 L159.63,174.04 L159.82,174.04 L160.00,174.03 L160.18,174.03 L160.37,174.02 L160.55,174.02 L160.74,174.01 L160.92,174.01 L161.10,174.01 L161.29,174.00 L161.47,174.00 L161.66,173.99 L161.84,173.99 L162.02,173.98 L162.21,173.98 L162.39,173.97 L162.58,173.97 L162.76,173.96 L162.94,173.96 L163.13,173.96 L163.31,173.95 L163.50,173.95 L163.68,173.94 L163.86,173.94 L164.05,173.93 L164.23,173.93 L164.42,173.92 L164.60,173.92 L164.78,173.92 L164.97,173.91 L165.15,173.91 L165.34,173.90 L165.52,173.90 L165.70,173.89 L165.89,173.89 L166.07,173.89 L166.26,173.88 L166.44,173.88 L166.62,173.87 L166.81,173.87 L166.99,173.86 L167.18,173.86 L167.36,173.86 L167.54,173.85 L167.73,173.85 L167.91,173.84 L168.10,173.84 L168.28,173.83 L168.46,173.83 L168.65,173.83 L168.83,173.82 L169.02,173.82 L169.20,173.81 L169.38,173.81 L169.57,173.81 L169.75,173.80 L169.94,173.80 L170.12,173.79 L170.30,173.79 L170.49,173.79 L170.67,173.78 L170.86,173.78 L171.04,173.77 L171.22,173.77 L171.41,173.77 L171.59,173.76 L171.78,173.76 L171.96,173.76 L172.14,173.75 L172.33,173.75 L172.51,173.74 L172.70,173.74 L172.88,173.74 L173.06,173.73 L173.25,173.73 L173.43,173.73 L173.62,173.72 L173.80,173.72 L173.98,173.71 L174.17,173.71 L174.35,173.71 L174.54,173.70 L174.72,173.70 L174.90,173.70 L175.09,173.69 L175.27,173.69 L175.46,173.69 L175.64,173.68 L175.82,173.68 L176.01,173.68 L176.19,173.67 L176.38,173.67 L176.56,173.66 L176.74,173.66 L176.93,173.66 L177.11,173.65 L177.30,173.65 L177.48,173.65 L177.66,173.64 L177.85,173.64 L178.03,173.64 L178.22,173.63 L178.40,173.63 L178.58,173.63 L178.77,173.62 L178.95,173.62 L179.14,173.62 L179.32,173.62 L179.50,173.61 L179.69,173.61 L179.87,173.61 L180.06,173.60 L180.24,173.60 L180.42,173.60 L180.61,173.59 L180.79,173.59 L180.98,173.59 L181.16,173.58 L181.34,173.58 L181.53,173.58 L181.71,173.58 L181.90,173.57 L182.08,173.57 L182.26,173.57 L182.45,173.56 L182.63,173.56 L182.82,173.56 L183.00,173.56 L183.18,173.55 L183.37,173.55 L183.55,173.55 L183.74,173.54 L183.92,173.54 L184.10,173.54 L184.29,173.54 L184.47,173.53 L184.66,173.53 L184.84,173.53 L185.02,173.53 L185.21,173.52 L185.39,173.52 L185.58,173.52 L185.76,173.52 L185.94,173.51 L186.13,173.51 L186.31,173.51 L186.50,173.51 L186.68,173.50 L186.86,173.50 L187.05,173.50 L187.23,173.50 L187.42,173.49 L187.60,173.49 L187.78,173.49 L187.97,173.49 L188.15,173.48 L188.34,173.48 L188.52,173.48 L188.70,173.48 L188.89,173.48 L189.07,173.47 L189.26,173.47 L189.44,173.47 L189.62,173.47 L189.81,173.46 L189.99,173.46 L190.18,173.46 L190.36,173.46 L190.54,173.46 L190.73,173.45 L190.91,173.45 L191.10,173.45 L191.28,173.45 L191.46,173.45 L191.65,173.45 L191.83,173.44 L192.02,173.44 L192.20,173.44 L192.38,173.44 L192.57,173.44 L192.75,173.43 L192.94,173.43 L193.12,173.43 L193.30,173.43 L193.49,173.43 L193.67,173.43 L193.86,173.42 L194.04,173.42 L194.22,173.42 L194.41,173.42 L194.59,173.42 L194.78,173.42 L194.96,173.42 L195.14,173.41 L195.33,173.41 L195.51,173.41 L195.70,173.41 L195.88,173.41 L196.06,173.41 L196.25,173.41 L196.43,173.40 L196.62,173.40 L196.80,173.40 L196.98,173.40 L197.17,173.40 L197.35,173.40 L197.54,173.40 L197.72,173.40 L197.90,173.39 L198.09,173.39 L198.27,173.39 L198.46,173.39 L198.64,173.39 L198.82,173.39 L199.01,173.39 L199.19,173.39 L199.38,173.39 L199.56,173.39 L199.74,173.38 L199.93,173.38 L200.11,173.38 L200.30,173.38 L200.48,173.38 L200.66,173.38 L200.85,173.38 L201.03,173.38 L201.22,173.38 L201.40,173.38 L201.58,173.38 L201.77,173.38 L201.95,173.38 L202.14,173.38 L202.32,173.38 L202.50,173.37 L202.69,173.37 L202.87,173.37 L203.06,173.37 L203.24,173.37 L203.42,173.37 L203.61,173.37 L203.79,173.37 L203.98,173.37 L204.16,173.37 L204.34,173.37 L204.53,173.37 L204.71,173.37 L204.90,173.37 L205.08,173.37 L205.26,173.37 L205.45,173.37 L205.63,173.37 L205.82,173.37 L206.00,173.37" fill="none" stroke="#1f1fff" stroke-width="1.05" stroke-linejoin="round"/>
<path d="M49.60,272.08 L49.78,266.72 L49.97,261.53 L50.15,256.50 L50.34,251.65 L50.52,246.96 L50.70,242.44 L50.89,238.08 L51.07,233.90 L51.26,229.89 L51.44,226.05 L51.62,222.37 L51.81,218.87 L51.99,215.54 L52.18,212.38 L52.36,209.39 L52.54,206.58 L52.73,203.93 L52.91,201.46 L53.10,199.16 L53.28,197.03 L53.46,195.08 L53.65,193.22 L53.83,191.46 L54.02,189.85 L54.20,188.50 L54.38,187.48 L54.57,186.87 L54.75,186.46 L54.94,186.11 L55.12,185.81 L55.30,185.55 L55.49,185.33 L55.67,185.13 L55.86,184.94 L56.04,184.76 L56.22,184.57 L56.41,184.37 L56.59,184.19 L56.78,184.01 L56.96,183.83 L57.14,183.67 L57.33,183.50 L57.51,183.35 L57.70,183.20 L57.88,183.05 L58.06,182.91 L58.25,182.78 L58.43,182.65 L58.62,182.52 L58.80,182.40 L58.98,182.27 L59.17,182.15 L59.35,182.03 L59.54,181.91 L59.72,181.80 L59.90,181.68 L60.09,181.57 L60.27,181.46 L60.46,181.35 L60.64,181.25 L60.82,181.15 L61.01,181.05 L61.19,180.96 L61.38,180.87 L61.56,180.78 L61.74,180.70 L61.93,180.63 L62.11,180.56 L62.30,180.49 L62.48,180.43 L62.66,180.37 L62.85,180.32 L63.03,180.27 L63.22,180.22 L63.40,180.17 L63.58,180.12 L63.77,180.07 L63.95,180.03 L64.14,179.99 L64.32,179.95 L64.50,179.91 L64.69,179.87 L64.87,179.83 L65.06,179.80 L65.24,179.76 L65.42,179.72 L65.61,179.69 L65.79,179.65 L65.98,179.62 L66.16,179.59 L66.34,179.55 L66.53,179.52 L66.71,179.48 L66.90,179.45 L67.08,179.41 L67.26,179.38 L67.45,179.34 L67.63,179.31 L67.82,179.27 L68.00,179.24 L68.18,179.20 L68.37,179.17 L68.55,179.13 L68.74,179.10 L68.92,179.07 L69.10,179.03 L69.29,179.00 L69.47,178.97 L69.66,178.94 L69.84,178.90 L70.02,178.87 L70.21,178.84 L70.39,178.81 L70.58,178.78 L70.76,178.75 L70.94,178.72 L71.13,178.69 L71.31,178.66 L71.50,178.62 L71.68,178.59 L71.86,178.56 L72.05,178.54 L72.23,178.51 L72.42,178.48 L72.60,178.45 L72.78,178.42 L72.97,178.39 L73.15,178.36 L73.34,178.33 L73.52,178.30 L73.70,178.28 L73.89,178.25 L74.07,178.22 L74.26,178.19 L74.44,178.17 L74.62,178.14 L74.81,178.11 L74.99,178.08 L75.18,178.06 L75.36,178.03 L75.54,178.00 L75.73,177.98 L75.91,177.95 L76.10,177.92 L76.28,177.90 L76.46,177.87 L76.65,177.84 L76.83,177.82 L77.02,177.79 L77.20,177.76 L77.38,177.74 L77.57,177.71 L77.75,177.69 L77.94,177.66 L78.12,177.63 L78.30,177.61 L78.49,177.58 L78.67,177.56 L78.86,177.53 L79.04,177.51 L79.22,177.48 L79.41,177.46 L79.59,177.43 L79.78,177.41 L79.96,177.38 L80.14,177.36 L80.33,177.34 L80.51,177.31 L80.70,177.29 L80.88,177.27 L81.06,177.24 L81.25,177.22 L81.43,177.20 L81.62,177.18 L81.80,177.16 L81.98,177.13 L82.17,177.11 L82.35,177.09 L82.54,177.07 L82.72,177.05 L82.90,177.03 L83.09,177.01 L83.27,176.99 L83.46,176.97 L83.64,176.96 L83.82,176.94 L84.01,176.92 L84.19,176.90 L84.38,176.89 L84.56,176.87 L84.74,176.85 L84.93,176.84 L85.11,176.82 L85.30,176.80 L85.48,176.79 L85.66,176.77 L85.85,176.76 L86.03,176.74 L86.22,176.72 L86.40,176.71 L86.58,176.69 L86.77,176.68 L86.95,176.66 L87.14,176.65 L87.32,176.63 L87.50,176.62 L87.69,176.60 L87.87,176.59 L88.06,176.58 L88.24,176.56 L88.42,176.55 L88.61,176.53 L88.79,176.52 L88.98,176.51 L89.16,176.49 L89.34,176.48 L89.53,176.47 L89.71,176.45 L89.90,176.44 L90.08,176.43 L90.26,176.41 L90.45,176.40 L90.63,176.39 L90.82,176.38 L91.00,176.36 L91.18,176.35 L91.37,176.34 L91.55,176.33 L91.74,176.31 L91.92,176.30 L92.10,176.29 L92.29,176.28 L92.47,176.26 L92.66,176.25 L92.84,176.24 L93.02,176.23 L93.21,176.22 L93.39,176.20 L93.58,176.19 L93.76,176.18 L93.94,176.17 L94.13,176.16 L94.31,176.15 L94.50,176.13 L94.68,176.12 L94.86,176.11 L95.05,176.10 L95.23,176.09 L95.42,176.08 L95.60,176.07 L95.78,176.05 L95.97,176.04 L96.15,176.03 L96.34,176.02 L96.52,176.01 L96.70,176.00 L96.89,175.99 L97.07,175.97 L97.26,175.96 L97.44,175.95 L97.62,175.94 L97.81,175.93 L97.99,175.92 L98.18,175.91 L98.36,175.89 L98.54,175.88 L98.73,175.87 L98.91,175.86 L99.10,175.85 L99.28,175.84 L99.46,175.83 L99.65,175.82 L99.83,175.80 L100.02,175.79 L100.20,175.78 L100.38,175.77 L100.57,175.76 L100.75,175.75 L100.94,175.74 L101.12,175.73 L101.30,175.72 L101.49,175.71 L101.67,175.70 L101.86,175.68 L102.04,175.67 L102.22,175.66 L102.41,175.65 L102.59,175.64 L102.78,175.63 L102.96,175.62 L103.14,175.61 L103.33,175.60 L103.51,175.59 L103.70,175.58 L103.88,175.57 L104.06,175.56 L104.25,175.55 L104.43,175.54 L104.62,175.53 L104.80,175.52 L104.98,175.51 L105.17,175.50 L105.35,175.49 L105.54,175.48 L105.72,175.47 L105.90,175.46 L106.09,175.45 L106.27,175.44 L106.46,175.43 L106.64,175.42 L106.82,175.41 L107.01,175.40 L107.19,175.39 L107.38,175.38 L107.56,175.37 L107.74,175.36 L107.93,175.35 L108.11,175.34 L108.30,175.33 L108.48,175.32 L108.66,175.31 L108.85,175.30 L109.03,175.29 L109.22,175.28 L109.40,175.27 L109.58,175.26 L109.77,175.25 L109.95,175.24 L110.14,175.23 L110.32,175.22 L110.50,175.22 L110.69,175.21 L110.87,175.20 L111.06,175.19 L111.24,175.18 L111.42,175.17 L111.61,175.16 L111.79,175.15 L111.98,175.14 L112.16,175.13 L112.34,175.12 L112.53,175.11 L112.71,175.10 L112.90,175.09 L113.08,175.08 L113.26,175.07 L113.45,175.07 L113.63,175.06 L113.82,175.05 L114.00,175.04 L114.18,175.03 L114.37,175.02 L114.55,175.01 L114.74,175.00 L114.92,174.99 L115.10,174.98 L115.29,174.97 L115.47,174.96 L115.66,174.95 L115.84,174.94 L116.02,174.93 L116.21,174.92 L116.39,174.91 L116.58,174.90 L116.76,174.89 L116.94,174.88 L117.13,174.87 L117.31,174.86 L117.50,174.85 L117.68,174.84 L117.86,174.83 L118.05,174.82 L118.23,174.81 L118.42,174.80 L118.60,174.79 L118.78,174.78 L118.97,174.77 L119.15,174.76 L119.34,174.75 L119.52,174.74 L119.70,174.73 L119.89,174.72 L120.07,174.71 L120.26,174.70 L120.44,174.69 L120.62,174.68 L120.81,174.67 L120.99,174.66 L121.18,174.65 L121.36,174.65 L121.54,174.64 L121.73,174.63 L121.91,174.62 L122.10,174.61 L122.28,174.60 L122.46,174.59 L122.65,174.58 L122.83,174.57 L123.02,174.56 L123.20,174.55 L123.38,174.54 L123.57,174.53 L123.75,174.52 L123.94,174.51 L124.12,174.50 L124.30,174.49 L124.49,174.48 L124.67,174.47 L124.86,174.46 L125.04,174.46 L125.22,174.45 L125.41,174.44 L125.59,174.43 L125.78,174.42 L125.96,174.41 L126.14,174.40 L126.33,174.39 L126.51,174.38 L126.70,174.38 L126.88,174.37 L127.06,174.36 L127.25,174.35 L127.43,174.34 L127.62,174.33 L127.80,174.32 L127.98,174.32 L128.17,174.31 L128.35,174.30 L128.54,174.29 L128.72,174.28 L128.90,174.28 L129.09,174.27 L129.27,174.26 L129.46,174.25 L129.64,174.24 L129.82,174.24 L130.01,174.23 L130.19,174.22 L130.38,174.22 L130.56,174.21 L130.74,174.20 L130.93,174.19 L131.11,174.19 L131.30,174.18 L131.48,174.17 L131.66,174.17 L131.85,174.16 L132.03,174.15 L132.22,174.15 L132.40,174.14 L132.58,174.13 L132.77,174.13 L132.95,174.12 L133.14,174.12 L133.32,174.11 L133.50,174.10 L133.69,174.10 L133.87,174.09 L134.06,174.09 L134.24,174.08 L134.42,174.08 L134.61,174.07 L134.79,174.07 L134.98,174.06 L135.16,174.06 L135.34,174.05 L135.53,174.05 L135.71,174.04 L135.90,174.04 L136.08,174.03 L136.26,174.03 L136.45,174.02 L136.63,174.02 L136.82,174.01 L137.00,174.01 L137.18,174.00 L137.37,174.00 L137.55,173.99 L137.74,173.99 L137.92,173.98 L138.10,173.98 L138.29,173.97 L138.47,173.97 L138.66,173.96 L138.84,173.96 L139.02,173.96 L139.21,173.95 L139.39,173.95 L139.58,173.94 L139.76,173.94 L139.94,173.93 L140.13,173.93 L140.31,173.92 L140.50,173.92 L140.68,173.91 L140.86,173.91 L141.05,173.90 L141.23,173.90 L141.42,173.89 L141.60,173.89 L141.78,173.88 L141.97,173.88 L142.15,173.88 L142.34,173.87 L142.52,173.87 L142.70,173.86 L142.89,173.86 L143.07,173.85 L143.26,173.85 L143.44,173.84 L143.62,173.84 L143.81,173.83 L143.99,173.83 L144.18,173.82 L144.36,173.82 L144.54,173.82 L144.73,173.81 L144.91,173.81 L145.10,173.80 L145.28,173.80 L145.46,173.79 L145.65,173.79 L145.83,173.78 L146.02,173.78 L146.20,173.77 L146.38,173.77 L146.57,173.77 L146.75,173.76 L146.94,173.76 L147.12,173.75 L147.30,173.75 L147.49,173.74 L147.67,173.74 L147.86,173.73 L148.04,173.73 L148.22,173.73 L148.41,173.72 L148.59,173.72 L148.78,173.71 L148.96,173.71 L149.14,173.70 L149.33,173.70 L149.51,173.69 L149.70,173.69 L149.88,173.69 L150.06,173.68 L150.25,173.68 L150.43,173.67 L150.62,173.67 L150.80,173.66 L150.98,173.66 L151.17,173.66 L151.35,173.65 L151.54,173.65 L151.72,173.64 L151.90,173.64 L152.09,173.63 L152.27,173.63 L152.46,173.63 L152.64,173.62 L152.82,173.62 L153.01,173.61 L153.19,173.61 L153.38,173.60 L153.56,173.60 L153.74,173.60 L153.93,173.59 L154.11,173.59 L154.30,173.58 L154.48,173.58 L154.66,173.58 L154.85,173.57 L155.03,173.57 L155.22,173.56 L155.40,173.56 L155.58,173.55 L155.77,173.55 L155.95,173.55 L156.14,173.54 L156.32,173.54 L156.50,173.53 L156.69,173.53 L156.87,173.53 L157.06,173.52 L157.24,173.52 L157.42,173.51 L157.61,173.51 L157.79,173.51 L157.98,173.50 L158.16,173.50 L158.34,173.49 L158.53,173.49 L158.71,173.49 L158.90,173.48 L159.08,173.48 L159.26,173.47 L159.45,173.47 L159.63,173.47 L159.82,173.46 L160.00,173.46 L160.18,173.45 L160.37,173.45 L160.55,173.45 L160.74,173.44 L160.92,173.44 L161.10,173.44 L161.29,173.43 L161.47,173.43 L161.66,173.42 L161.84,173.42 L162.02,173.42 L162.21,173.41 L162.39,173.41 L162.58,173.40 L162.76,173.40 L162.94,173.40 L163.13,173.39 L163.31,173.39 L163.50,173.39 L163.68,173.38 L163.86,173.38 L164.05,173.38 L164.23,173.37 L164.42,173.37 L164.60,173.36 L164.78,173.36 L164.97,173.36 L165.15,173.35 L165.34,173.35 L165.52,173.35 L165.70,173.34 L165.89,173.34 L166.07,173.34 L166.26,173.33 L166.44,173.33 L166.62,173.33 L166.81,173.32 L166.99,173.32 L167.18,173.31 L167.36,173.31 L167.54,173.31 L167.73,173.30 L167.91,173.30 L168.10,173.30 L168.28,173.29 L168.46,173.29 L168.65,173.29 L168.83,173.28 L169.02,173.28 L169.20,173.28 L169.38,173.27 L169.57,173.27 L169.75,173.27 L169.94,173.26 L170.12,173.26 L170.30,173.26 L170.49,173.25 L170.67,173.25 L170.86,173.25 L171.04,173.24 L171.22,173.24 L171.41,173.24 L171.59,173.23 L171.78,173.23 L171.96,173.23 L172.14,173.23 L172.33,173.22 L172.51,173.22 L172.70,173.22 L172.88,173.21 L173.06,173.21 L173.25,173.21 L173.43,173.20 L173.62,173.20 L173.80,173.20 L173.98,173.19 L174.17,173.19 L174.35,173.19 L174.54,173.19 L174.72,173.18 L174.90,173.18 L175.09,173.18 L175.27,173.17 L175.46,173.17 L175.64,173.17 L175.82,173.17 L176.01,173.16 L176.19,173.16 L176.38,173.16 L176.56,173.15 L176.74,173.15 L176.93,173.15 L177.11,173.15 L177.30,173.14 L177.48,173.14 L177.66,173.14 L177.85,173.13 L178.03,173.13 L178.22,173.13 L178.40,173.13 L178.58,173.12 L178.77,173.12 L178.95,173.12 L179.14,173.12 L179.32,173.11 L179.50,173.11 L179.69,173.11 L179.87,173.11 L180.06,173.10 L180.24,173.10 L180.42,173.10 L180.61,173.10 L180.79,173.09 L180.98,173.09 L181.16,173.09 L181.34,173.09 L181.53,173.08 L181.71,173.08 L181.90,173.08 L182.08,173.08 L182.26,173.07 L182.45,173.07 L182.63,173.07 L182.82,173.07 L183.00,173.06 L183.18,173.06 L183.37,173.06 L183.55,173.06 L183.74,173.05 L183.92,173.05 L184.10,173.05 L184.29,173.05 L184.47,173.05 L184.66,173.04 L184.84,173.04 L185.02,173.04 L185.21,173.04 L185.39,173.04 L185.58,173.03 L185.76,173.03 L185.94,173.03 L186.13,173.03 L186.31,173.03 L186.50,173.02 L186.68,173.02 L186.86,173.02 L187.05,173.02 L187.23,173.02 L187.42,173.01 L187.60,173.01 L187.78,173.01 L187.97,173.01 L188.15,173.01 L188.34,173.00 L188.52,173.00 L188.70,173.00 L188.89,173.00 L189.07,173.00 L189.26,173.00 L189.44,172.99 L189.62,172.99 L189.81,172.99 L189.99,172.99 L190.18,172.99 L190.36,172.99 L190.54,172.98 L190.73,172.98 L190.91,172.98 L191.10,172.98 L191.28,172.98 L191.46,172.98 L191.65,172.97 L191.83,172.97 L192.02,172.97 L192.20,172.97 L192.38,172.97 L192.57,172.97 L192.75,172.97 L192.94,172.96 L193.12,172.96 L193.30,172.96 L193.49,172.96 L193.67,172.96 L193.86,172.96 L194.04,172.96 L194.22,172.95 L194.41,172.95 L194.59,172.95 L194.78,172.95 L194.96,172.95 L195.14,172.95 L195.33,172.95 L195.51,172.95 L195.70,172.94 L195.88,172.94 L196.06,172.94 L196.25,172.94 L196.43,172.94 L196.62,172.94 L196.80,172.94 L196.98,172.94 L197.17,172.94 L197.35,172.94 L197.54,172.93 L197.72,172.93 L197.90,172.93 L198.09,172.93 L198.27,172.93 L198.46,172.93 L198.64,172.93 L198.82,172.93 L199.01,172.93 L199.19,172.93 L199.38,172.93 L199.56,172.93 L199.74,172.92 L199.93,172.92 L200.11,172.92 L200.30,172.92 L200.48,172.92 L200.66,172.92 L200.85,172.92 L201.03,172.92 L201.22,172.92 L201.40,172.92 L201.58,172.92 L201.77,172.92 L201.95,172.92 L202.14,172.92 L202.32,172.92 L202.50,172.92 L202.69,172.92 L202.87,172.92 L203.06,172.92 L203.24,172.92 L203.42,172.92 L203.61,172.91 L203.79,172.91 L203.98,172.91 L204.16,172.91 L204.34,172.91 L204.53,172.91 L204.71,172.91 L204.90,172.91 L205.08,172.91 L205.26,172.91 L205.45,172.91 L205.63,172.91 L205.82,172.91 L206.00,172.91" fill="none" stroke="#d81ed8" stroke-width="1.05" stroke-linejoin="round"/>
<path d="M49.60,272.08 L49.78,258.63 L49.97,245.91 L50.15,234.05 L50.34,223.17 L50.52,213.37 L50.70,204.79 L50.89,197.53 L51.07,191.71 L51.26,187.45 L51.44,184.67 L51.62,182.33 L51.81,180.32 L51.99,178.71 L52.18,177.58 L52.36,177.03 L52.54,176.81 L52.73,176.65 L52.91,176.54 L53.10,176.44 L53.28,176.34 L53.46,176.24 L53.65,176.14 L53.83,176.05 L54.02,175.97 L54.20,175.88 L54.38,175.80 L54.57,175.73 L54.75,175.66 L54.94,175.59 L55.12,175.52 L55.30,175.45 L55.49,175.39 L55.67,175.32 L55.86,175.26 L56.04,175.20 L56.22,175.14 L56.41,175.08 L56.59,175.02 L56.78,174.96 L56.96,174.90 L57.14,174.84 L57.33,174.78 L57.51,174.72 L57.70,174.67 L57.88,174.61 L58.06,174.56 L58.25,174.50 L58.43,174.45 L58.62,174.40 L58.80,174.35 L58.98,174.30 L59.17,174.26 L59.35,174.21 L59.54,174.17 L59.72,174.13 L59.90,174.08 L60.09,174.05 L60.27,174.01 L60.46,173.97 L60.64,173.94 L60.82,173.91 L61.01,173.88 L61.19,173.85 L61.38,173.82 L61.56,173.79 L61.74,173.76 L61.93,173.73 L62.11,173.70 L62.30,173.68 L62.48,173.65 L62.66,173.62 L62.85,173.60 L63.03,173.57 L63.22,173.55 L63.40,173.52 L63.58,173.50 L63.77,173.48 L63.95,173.45 L64.14,173.43 L64.32,173.41 L64.50,173.39 L64.69,173.37 L64.87,173.35 L65.06,173.33 L65.24,173.31 L65.42,173.29 L65.61,173.27 L65.79,173.25 L65.98,173.24 L66.16,173.22 L66.34,173.20 L66.53,173.19 L66.71,173.17 L66.90,173.16 L67.08,173.14 L67.26,173.13 L67.45,173.11 L67.63,173.10 L67.82,173.08 L68.00,173.07 L68.18,173.06 L68.37,173.04 L68.55,173.03 L68.74,173.02 L68.92,173.00 L69.10,172.99 L69.29,172.98 L69.47,172.97 L69.66,172.95 L69.84,172.94 L70.02,172.93 L70.21,172.92 L70.39,172.91 L70.58,172.89 L70.76,172.88 L70.94,172.87 L71.13,172.86 L71.31,172.85 L71.50,172.84 L71.68,172.83 L71.86,172.82 L72.05,172.81 L72.23,172.80 L72.42,172.79 L72.60,172.78 L72.78,172.77 L72.97,172.76 L73.15,172.75 L73.34,172.74 L73.52,172.73 L73.70,172.72 L73.89,172.71 L74.07,172.70 L74.26,172.69 L74.44,172.68 L74.62,172.68 L74.81,172.67 L74.99,172.66 L75.18,172.65 L75.36,172.64 L75.54,172.64 L75.73,172.63 L75.91,172.62 L76.10,172.61 L76.28,172.61 L76.46,172.60 L76.65,172.59 L76.83,172.58 L77.02,172.58 L77.20,172.57 L77.38,172.56 L77.57,172.56 L77.75,172.55 L77.94,172.54 L78.12,172.54 L78.30,172.53 L78.49,172.52 L78.67,172.52 L78.86,172.51 L79.04,172.51 L79.22,172.50 L79.41,172.49 L79.59,172.49 L79.78,172.49 L79.96,172.50 L80.14,172.53 L80.33,172.60 L80.51,172.72 L80.70,172.93 L80.88,173.26 L81.06,173.70 L81.25,174.24 L81.43,174.82 L81.62,175.34 L81.80,175.71 L81.98,175.84 L82.17,175.70 L82.35,175.32 L82.54,174.79 L82.72,174.20 L82.90,173.64 L83.09,173.19 L83.27,172.85 L83.46,172.63 L83.64,172.50 L83.82,172.42 L84.01,172.38 L84.19,172.36 L84.38,172.34 L84.56,172.34 L84.74,172.33 L84.93,172.33 L85.11,172.32 L85.30,172.32 L85.48,172.31 L85.66,172.31 L85.85,172.30 L86.03,172.30 L86.22,172.29 L86.40,172.29 L86.58,172.28 L86.77,172.28 L86.95,172.27 L87.14,172.27 L87.32,172.26 L87.50,172.26 L87.69,172.25 L87.87,172.25 L88.06,172.24 L88.24,172.24 L88.42,172.24 L88.61,172.23 L88.79,172.23 L88.98,172.22 L89.16,172.22 L89.34,172.21 L89.53,172.21 L89.71,172.20 L89.90,172.20 L90.08,172.20 L90.26,172.19 L90.45,172.19 L90.63,172.18 L90.82,172.18 L91.00,172.17 L91.18,172.17 L91.37,172.17 L91.55,172.16 L91.74,172.16 L91.92,172.15 L92.10,172.15 L92.29,172.15 L92.47,172.14 L92.66,172.14 L92.84,172.13 L93.02,172.13 L93.21,172.13 L93.39,172.12 L93.58,172.12 L93.76,172.11 L93.94,172.11 L94.13,172.11 L94.31,172.10 L94.50,172.10 L94.68,172.09 L94.86,172.09 L95.05,172.09 L95.23,172.08 L95.42,172.08 L95.60,172.09 L95.78,172.11 L95.97,172.15 L96.15,172.25 L96.34,172.41 L96.52,172.65 L96.70,172.99 L96.89,173.37 L97.07,173.73 L97.26,174.00 L97.44,174.09 L97.62,173.99 L97.81,173.72 L97.99,173.34 L98.18,172.96 L98.36,172.62 L98.54,172.36 L98.73,172.19 L98.91,172.09 L99.10,172.04 L99.28,172.01 L99.46,172.00 L99.65,171.99 L99.83,171.99 L100.02,171.98 L100.20,171.98 L100.38,171.98 L100.57,171.97 L100.75,171.97 L100.94,171.97 L101.12,171.96 L101.30,171.96 L101.49,171.95 L101.67,171.95 L101.86,171.95 L102.04,171.94 L102.22,171.94 L102.41,171.94 L102.59,171.93 L102.78,171.93 L102.96,171.92 L103.14,171.92 L103.33,171.92 L103.51,171.91 L103.70,171.91 L103.88,171.90 L104.06,171.90 L104.25,171.90 L104.43,171.89 L104.62,171.89 L104.80,171.88 L104.98,171.88 L105.17,171.88 L105.35,171.87 L105.54,171.87 L105.72,171.87 L105.90,171.86 L106.09,171.86 L106.27,171.85 L106.46,171.85 L106.64,171.85 L106.82,171.84 L107.01,171.84 L107.19,171.83 L107.38,171.83 L107.56,171.83 L107.74,171.82 L107.93,171.82 L108.11,171.81 L108.30,171.81 L108.48,171.81 L108.66,171.80 L108.85,171.80 L109.03,171.79 L109.22,171.79 L109.40,171.79 L109.58,171.78 L109.77,171.78 L109.95,171.77 L110.14,171.77 L110.32,171.77 L110.50,171.76 L110.69,171.76 L110.87,171.75 L111.06,171.75 L111.24,171.75 L111.42,171.75 L111.61,171.75 L111.79,171.76 L111.98,171.80 L112.16,171.87 L112.34,172.01 L112.53,172.22 L112.71,172.50 L112.90,172.78 L113.08,173.00 L113.26,173.08 L113.45,172.99 L113.63,172.76 L113.82,172.47 L114.00,172.19 L114.18,171.97 L114.37,171.83 L114.55,171.74 L114.74,171.70 L114.92,171.68 L115.10,171.67 L115.29,171.66 L115.47,171.66 L115.66,171.66 L115.84,171.65 L116.02,171.65 L116.21,171.64 L116.39,171.64 L116.58,171.64 L116.76,171.63 L116.94,171.63 L117.13,171.63 L117.31,171.62 L117.50,171.62 L117.68,171.61 L117.86,171.61 L118.05,171.61 L118.23,171.60 L118.42,171.60 L118.60,171.60 L118.78,171.59 L118.97,171.59 L119.15,171.58 L119.34,171.58 L119.52,171.58 L119.70,171.57 L119.89,171.57 L120.07,171.57 L120.26,171.56 L120.44,171.56 L120.62,171.56 L120.81,171.55 L120.99,171.55 L121.18,171.55 L121.36,171.54 L121.54,171.54 L121.73,171.53 L121.91,171.53 L122.10,171.53 L122.28,171.52 L122.46,171.52 L122.65,171.52 L122.83,171.51 L123.02,171.51 L123.20,171.51 L123.38,171.50 L123.57,171.50 L123.75,171.50 L123.94,171.49 L124.12,171.49 L124.30,171.49 L124.49,171.48 L124.67,171.48 L124.86,171.48 L125.04,171.47 L125.22,171.47 L125.41,171.47 L125.59,171.46 L125.78,171.46 L125.96,171.46 L126.14,171.45 L126.33,171.45 L126.51,171.45 L126.70,171.44 L126.88,171.44 L127.06,171.44 L127.25,171.43 L127.43,171.43 L127.62,171.43 L127.80,171.43 L127.98,171.42 L128.17,171.42 L128.35,171.42 L128.54,171.41 L128.72,171.41 L128.90,171.41 L129.09,171.40 L129.27,171.40 L129.46,171.40 L129.64,171.40 L129.82,171.39 L130.01,171.39 L130.19,171.39 L130.38,171.38 L130.56,171.38 L130.74,171.38 L130.93,171.37 L131.11,171.37 L131.30,171.37 L131.48,171.37 L131.66,171.36 L131.85,171.36 L132.03,171.36 L132.22,171.36 L132.40,171.35 L132.58,171.35 L132.77,171.35 L132.95,171.34 L133.14,171.34 L133.32,171.34 L133.50,171.34 L133.69,171.33 L133.87,171.33 L134.06,171.33 L134.24,171.33 L134.42,171.32 L134.61,171.32 L134.79,171.32 L134.98,171.32 L135.16,171.31 L135.34,171.31 L135.53,171.31 L135.71,171.31 L135.90,171.30 L136.08,171.30 L136.26,171.30 L136.45,171.30 L136.63,171.29 L136.82,171.29 L137.00,171.29 L137.18,171.29 L137.37,171.28 L137.55,171.28 L137.74,171.28 L137.92,171.28 L138.10,171.27 L138.29,171.27 L138.47,171.27 L138.66,171.27 L138.84,171.26 L139.02,171.26 L139.21,171.26 L139.39,171.26 L139.58,171.25 L139.76,171.25 L139.94,171.25 L140.13,171.25 L140.31,171.25 L140.50,171.24 L140.68,171.24 L140.86,171.24 L141.05,171.24 L141.23,171.23 L141.42,171.23 L141.60,171.23 L141.78,171.23 L141.97,171.22 L142.15,171.22 L142.34,171.22 L142.52,171.22 L142.70,171.21 L142.89,171.21 L143.07,171.21 L143.26,171.21 L143.44,171.21 L143.62,171.21 L143.81,171.21 L143.99,171.23 L144.18,171.27 L144.36,171.34 L144.54,171.44 L144.73,171.58 L144.91,171.72 L145.10,171.83 L145.28,171.87 L145.46,171.82 L145.65,171.71 L145.83,171.56 L146.02,171.42 L146.20,171.31 L146.38,171.24 L146.57,171.20 L146.75,171.17 L146.94,171.16 L147.12,171.16 L147.30,171.15 L147.49,171.15 L147.67,171.15 L147.86,171.15 L148.04,171.14 L148.22,171.14 L148.41,171.14 L148.59,171.14 L148.78,171.14 L148.96,171.13 L149.14,171.13 L149.33,171.13 L149.51,171.13 L149.70,171.12 L149.88,171.12 L150.06,171.12 L150.25,171.12 L150.43,171.11 L150.62,171.11 L150.80,171.11 L150.98,171.11 L151.17,171.11 L151.35,171.10 L151.54,171.10 L151.72,171.10 L151.90,171.10 L152.09,171.09 L152.27,171.09 L152.46,171.09 L152.64,171.09 L152.82,171.08 L153.01,171.08 L153.19,171.08 L153.38,171.08 L153.56,171.08 L153.74,171.07 L153.93,171.07 L154.11,171.07 L154.30,171.07 L154.48,171.06 L154.66,171.06 L154.85,171.06 L155.03,171.06 L155.22,171.06 L155.40,171.05 L155.58,171.05 L155.77,171.05 L155.95,171.05 L156.14,171.04 L156.32,171.04 L156.50,171.04 L156.69,171.04 L156.87,171.04 L157.06,171.03 L157.24,171.03 L157.42,171.03 L157.61,171.03 L157.79,171.02 L157.98,171.02 L158.16,171.02 L158.34,171.02 L158.53,171.02 L158.71,171.01 L158.90,171.01 L159.08,171.01 L159.26,171.01 L159.45,171.00 L159.63,171.00 L159.82,171.00 L160.00,171.00 L160.18,171.00 L160.37,171.01 L160.55,171.03 L160.74,171.07 L160.92,171.16 L161.10,171.28 L161.29,171.44 L161.47,171.60 L161.66,171.73 L161.84,171.78 L162.02,171.73 L162.21,171.60 L162.39,171.43 L162.58,171.26 L162.76,171.13 L162.94,171.05 L163.13,171.00 L163.31,170.98 L163.50,170.96 L163.68,170.96 L163.86,170.95 L164.05,170.95 L164.23,170.95 L164.42,170.95 L164.60,170.95 L164.78,170.94 L164.97,170.94 L165.15,170.94 L165.34,170.94 L165.52,170.94 L165.70,170.93 L165.89,170.93 L166.07,170.93 L166.26,170.93 L166.44,170.93 L166.62,170.92 L166.81,170.92 L166.99,170.92 L167.18,170.92 L167.36,170.92 L167.54,170.91 L167.73,170.91 L167.91,170.91 L168.10,170.91 L168.28,170.91 L168.46,170.90 L168.65,170.90 L168.83,170.90 L169.02,170.90 L169.20,170.90 L169.38,170.89 L169.57,170.89 L169.75,170.89 L169.94,170.89 L170.12,170.89 L170.30,170.88 L170.49,170.88 L170.67,170.88 L170.86,170.88 L171.04,170.88 L171.22,170.87 L171.41,170.87 L171.59,170.87 L171.78,170.87 L171.96,170.87 L172.14,170.87 L172.33,170.86 L172.51,170.86 L172.70,170.86 L172.88,170.86 L173.06,170.86 L173.25,170.85 L173.43,170.85 L173.62,170.85 L173.80,170.85 L173.98,170.85 L174.17,170.85 L174.35,170.84 L174.54,170.84 L174.72,170.84 L174.90,170.84 L175.09,170.84 L175.27,170.83 L175.46,170.83 L175.64,170.83 L175.82,170.83 L176.01,170.83 L176.19,170.83 L176.38,170.82 L176.56,170.82 L176.74,170.82 L176.93,170.82 L177.11,170.82 L177.30,170.82 L177.48,170.81 L177.66,170.81 L177.85,170.81 L178.03,170.81 L178.22,170.81 L178.40,170.81 L178.58,170.80 L178.77,170.80 L178.95,170.80 L179.14,170.80 L179.32,170.80 L179.50,170.80 L179.69,170.79 L179.87,170.79 L180.06,170.79 L180.24,170.79 L180.42,170.79 L180.61,170.79 L180.79,170.78 L180.98,170.78 L181.16,170.78 L181.34,170.78 L181.53,170.78 L181.71,170.78 L181.90,170.77 L182.08,170.77 L182.26,170.77 L182.45,170.77 L182.63,170.77 L182.82,170.77 L183.00,170.76 L183.18,170.76 L183.37,170.76 L183.55,170.76 L183.74,170.76 L183.92,170.76 L184.10,170.76 L184.29,170.75 L184.47,170.75 L184.66,170.75 L184.84,170.75 L185.02,170.75 L185.21,170.75 L185.39,170.75 L185.58,170.74 L185.76,170.74 L185.94,170.74 L186.13,170.74 L186.31,170.74 L186.50,170.74 L186.68,170.74 L186.86,170.73 L187.05,170.73 L187.23,170.73 L187.42,170.73 L187.60,170.73 L187.78,170.73 L187.97,170.73 L188.15,170.72 L188.34,170.72 L188.52,170.72 L188.70,170.72 L188.89,170.72 L189.07,170.72 L189.26,170.72 L189.44,170.72 L189.62,170.71 L189.81,170.71 L189.99,170.71 L190.18,170.71 L190.36,170.71 L190.54,170.71 L190.73,170.71 L190.91,170.71 L191.10,170.70 L191.28,170.70 L191.46,170.71 L191.65,170.72 L191.83,170.74 L192.02,170.79 L192.20,170.89 L192.38,171.03 L192.57,171.21 L192.75,171.40 L192.94,171.55 L193.12,171.60 L193.30,171.55 L193.49,171.40 L193.67,171.21 L193.86,171.02 L194.04,170.88 L194.22,170.78 L194.41,170.73 L194.59,170.70 L194.78,170.69 L194.96,170.68 L195.14,170.68 L195.33,170.68 L195.51,170.68 L195.70,170.67 L195.88,170.67 L196.06,170.67 L196.25,170.67 L196.43,170.67 L196.62,170.67 L196.80,170.67 L196.98,170.67 L197.17,170.67 L197.35,170.67 L197.54,170.66 L197.72,170.66 L197.90,170.66 L198.09,170.66 L198.27,170.66 L198.46,170.66 L198.64,170.66 L198.82,170.66 L199.01,170.66 L199.19,170.66 L199.38,170.66 L199.56,170.65 L199.74,170.65 L199.93,170.65 L200.11,170.65 L200.30,170.65 L200.48,170.65 L200.66,170.65 L200.85,170.65 L201.03,170.65 L201.22,170.65 L201.40,170.65 L201.58,170.64 L201.77,170.64 L201.95,170.64 L202.14,170.64 L202.32,170.64 L202.50,170.64 L202.69,170.64 L202.87,170.64 L203.06,170.64 L203.24,170.64 L203.42,170.64 L203.61,170.64 L203.79,170.64 L203.98,170.64 L204.16,170.63 L204.34,170.63 L204.53,170.63 L204.71,170.63 L204.90,170.63 L205.08,170.63 L205.26,170.63 L205.45,170.63 L205.63,170.63 L205.82,170.63 L206.00,170.63" fill="none" stroke="#1e961e" stroke-width="1.05" stroke-linejoin="round"/>
<path d="M49.60,272.08 L49.78,264.58 L49.97,257.38 L50.15,250.48 L50.34,243.88 L50.52,237.60 L50.70,231.62 L50.89,225.95 L51.07,220.59 L51.26,215.55 L51.44,210.82 L51.62,206.41 L51.81,202.32 L51.99,198.56 L52.18,195.11 L52.36,191.99 L52.54,189.20 L52.73,186.73 L52.91,184.60 L53.10,182.77 L53.28,181.17 L53.46,179.84 L53.65,178.85 L53.83,178.24 L54.02,177.76 L54.20,177.35 L54.38,177.01 L54.57,176.72 L54.75,176.46 L54.94,176.23 L55.12,176.00 L55.30,175.78 L55.49,175.59 L55.67,175.42 L55.86,175.28 L56.04,175.18 L56.22,175.10 L56.41,175.03 L56.59,174.96 L56.78,174.89 L56.96,174.83 L57.14,174.77 L57.33,174.71 L57.51,174.66 L57.70,174.61 L57.88,174.57 L58.06,174.52 L58.25,174.48 L58.43,174.44 L58.62,174.40 L58.80,174.37 L58.98,174.33 L59.17,174.30 L59.35,174.27 L59.54,174.24 L59.72,174.21 L59.90,174.18 L60.09,174.15 L60.27,174.12 L60.46,174.09 L60.64,174.06 L60.82,174.02 L61.01,173.99 L61.19,173.96 L61.38,173.94 L61.56,173.91 L61.74,173.88 L61.93,173.85 L62.11,173.82 L62.30,173.80 L62.48,173.77 L62.66,173.74 L62.85,173.72 L63.03,173.69 L63.22,173.67 L63.40,173.64 L63.58,173.62 L63.77,173.60 L63.95,173.57 L64.14,173.55 L64.32,173.53 L64.50,173.51 L64.69,173.49 L64.87,173.47 L65.06,173.45 L65.24,173.43 L65.42,173.41 L65.61,173.39 L65.79,173.37 L65.98,173.35 L66.16,173.34 L66.34,173.32 L66.53,173.30 L66.71,173.29 L66.90,173.27 L67.08,173.26 L67.26,173.24 L67.45,173.23 L67.63,173.21 L67.82,173.20 L68.00,173.18 L68.18,173.17 L68.37,173.16 L68.55,173.14 L68.74,173.13 L68.92,173.12 L69.10,173.10 L69.29,173.09 L69.47,173.08 L69.66,173.07 L69.84,173.06 L70.02,173.04 L70.21,173.03 L70.39,173.02 L70.58,173.01 L70.76,173.00 L70.94,172.99 L71.13,172.97 L71.31,172.96 L71.50,172.95 L71.68,172.94 L71.86,172.93 L72.05,172.92 L72.23,172.91 L72.42,172.90 L72.60,172.89 L72.78,172.88 L72.97,172.87 L73.15,172.86 L73.34,172.85 L73.52,172.84 L73.70,172.83 L73.89,172.82 L74.07,172.82 L74.26,172.81 L74.44,172.80 L74.62,172.79 L74.81,172.78 L74.99,172.77 L75.18,172.77 L75.36,172.76 L75.54,172.75 L75.73,172.74 L75.91,172.73 L76.10,172.73 L76.28,172.72 L76.46,172.71 L76.65,172.71 L76.83,172.70 L77.02,172.69 L77.20,172.68 L77.38,172.68 L77.57,172.67 L77.75,172.66 L77.94,172.66 L78.12,172.65 L78.30,172.64 L78.49,172.64 L78.67,172.63 L78.86,172.63 L79.04,172.62 L79.22,172.61 L79.41,172.61 L79.59,172.60 L79.78,172.59 L79.96,172.59 L80.14,172.58 L80.33,172.58 L80.51,172.57 L80.70,172.56 L80.88,172.56 L81.06,172.55 L81.25,172.55 L81.43,172.54 L81.62,172.54 L81.80,172.53 L81.98,172.52 L82.17,172.52 L82.35,172.51 L82.54,172.51 L82.72,172.50 L82.90,172.50 L83.09,172.49 L83.27,172.49 L83.46,172.48 L83.64,172.48 L83.82,172.47 L84.01,172.47 L84.19,172.46 L84.38,172.45 L84.56,172.45 L84.74,172.44 L84.93,172.44 L85.11,172.43 L85.30,172.43 L85.48,172.42 L85.66,172.42 L85.85,172.42 L86.03,172.41 L86.22,172.41 L86.40,172.40 L86.58,172.40 L86.77,172.39 L86.95,172.39 L87.14,172.38 L87.32,172.38 L87.50,172.37 L87.69,172.37 L87.87,172.36 L88.06,172.36 L88.24,172.35 L88.42,172.35 L88.61,172.35 L88.79,172.34 L88.98,172.34 L89.16,172.33 L89.34,172.33 L89.53,172.32 L89.71,172.32 L89.90,172.31 L90.08,172.31 L90.26,172.31 L90.45,172.30 L90.63,172.30 L90.82,172.29 L91.00,172.29 L91.18,172.28 L91.37,172.28 L91.55,172.28 L91.74,172.27 L91.92,172.27 L92.10,172.26 L92.29,172.26 L92.47,172.26 L92.66,172.25 L92.84,172.25 L93.02,172.24 L93.21,172.24 L93.39,172.24 L93.58,172.23 L93.76,172.23 L93.94,172.22 L94.13,172.22 L94.31,172.22 L94.50,172.21 L94.68,172.21 L94.86,172.20 L95.05,172.20 L95.23,172.20 L95.42,172.19 L95.60,172.19 L95.78,172.19 L95.97,172.18 L96.15,172.18 L96.34,172.17 L96.52,172.17 L96.70,172.17 L96.89,172.16 L97.07,172.16 L97.26,172.16 L97.44,172.15 L97.62,172.15 L97.81,172.14 L97.99,172.14 L98.18,172.14 L98.36,172.13 L98.54,172.13 L98.73,172.12 L98.91,172.12 L99.10,172.12 L99.28,172.11 L99.46,172.11 L99.65,172.11 L99.83,172.10 L100.02,172.10 L100.20,172.09 L100.38,172.09 L100.57,172.09 L100.75,172.08 L100.94,172.08 L101.12,172.08 L101.30,172.07 L101.49,172.07 L101.67,172.06 L101.86,172.06 L102.04,172.06 L102.22,172.05 L102.41,172.05 L102.59,172.05 L102.78,172.04 L102.96,172.04 L103.14,172.03 L103.33,172.03 L103.51,172.03 L103.70,172.02 L103.88,172.02 L104.06,172.01 L104.25,172.01 L104.43,172.01 L104.62,172.00 L104.80,172.00 L104.98,172.00 L105.17,171.99 L105.35,171.99 L105.54,171.98 L105.72,171.98 L105.90,171.98 L106.09,171.97 L106.27,171.97 L106.46,171.96 L106.64,171.96 L106.82,171.96 L107.01,171.95 L107.19,171.95 L107.38,171.94 L107.56,171.94 L107.74,171.94 L107.93,171.93 L108.11,171.93 L108.30,171.92 L108.48,171.92 L108.66,171.92 L108.85,171.91 L109.03,171.91 L109.22,171.90 L109.40,171.90 L109.58,171.90 L109.77,171.89 L109.95,171.89 L110.14,171.88 L110.32,171.88 L110.50,171.88 L110.69,171.87 L110.87,171.87 L111.06,171.86 L111.24,171.86 L111.42,171.86 L111.61,171.85 L111.79,171.85 L111.98,171.84 L112.16,171.84 L112.34,171.84 L112.53,171.83 L112.71,171.83 L112.90,171.82 L113.08,171.82 L113.26,171.82 L113.45,171.81 L113.63,171.81 L113.82,171.80 L114.00,171.80 L114.18,171.80 L114.37,171.79 L114.55,171.79 L114.74,171.79 L114.92,171.78 L115.10,171.78 L115.29,171.77 L115.47,171.77 L115.66,171.77 L115.84,171.76 L116.02,171.76 L116.21,171.75 L116.39,171.75 L116.58,171.75 L116.76,171.74 L116.94,171.74 L117.13,171.74 L117.31,171.73 L117.50,171.73 L117.68,171.72 L117.86,171.72 L118.05,171.72 L118.23,171.71 L118.42,171.71 L118.60,171.70 L118.78,171.70 L118.97,171.70 L119.15,171.69 L119.34,171.69 L119.52,171.69 L119.70,171.68 L119.89,171.68 L120.07,171.68 L120.26,171.67 L120.44,171.67 L120.62,171.66 L120.81,171.66 L120.99,171.66 L121.18,171.65 L121.36,171.65 L121.54,171.65 L121.73,171.64 L121.91,171.64 L122.10,171.64 L122.28,171.63 L122.46,171.63 L122.65,171.63 L122.83,171.62 L123.02,171.62 L123.20,171.61 L123.38,171.61 L123.57,171.61 L123.75,171.60 L123.94,171.60 L124.12,171.60 L124.30,171.59 L124.49,171.59 L124.67,171.59 L124.86,171.58 L125.04,171.58 L125.22,171.58 L125.41,171.57 L125.59,171.57 L125.78,171.57 L125.96,171.56 L126.14,171.56 L126.33,171.56 L126.51,171.56 L126.70,171.55 L126.88,171.55 L127.06,171.55 L127.25,171.54 L127.43,171.54 L127.62,171.54 L127.80,171.53 L127.98,171.53 L128.17,171.53 L128.35,171.52 L128.54,171.52 L128.72,171.52 L128.90,171.52 L129.09,171.51 L129.27,171.51 L129.46,171.51 L129.64,171.50 L129.82,171.50 L130.01,171.50 L130.19,171.50 L130.38,171.49 L130.56,171.49 L130.74,171.49 L130.93,171.48 L131.11,171.48 L131.30,171.48 L131.48,171.48 L131.66,171.47 L131.85,171.47 L132.03,171.47 L132.22,171.47 L132.40,171.46 L132.58,171.46 L132.77,171.46 L132.95,171.46 L133.14,171.45 L133.32,171.45 L133.50,171.45 L133.69,171.45 L133.87,171.44 L134.06,171.44 L134.24,171.44 L134.42,171.44 L134.61,171.43 L134.79,171.43 L134.98,171.43 L135.16,171.43 L135.34,171.43 L135.53,171.42 L135.71,171.42 L135.90,171.42 L136.08,171.42 L136.26,171.41 L136.45,171.41 L136.63,171.41 L136.82,171.41 L137.00,171.41 L137.18,171.40 L137.37,171.40 L137.55,171.40 L137.74,171.40 L137.92,171.39 L138.10,171.39 L138.29,171.39 L138.47,171.39 L138.66,171.39 L138.84,171.38 L139.02,171.38 L139.21,171.38 L139.39,171.38 L139.58,171.38 L139.76,171.37 L139.94,171.37 L140.13,171.37 L140.31,171.37 L140.50,171.36 L140.68,171.36 L140.86,171.36 L141.05,171.36 L141.23,171.36 L141.42,171.35 L141.60,171.35 L141.78,171.35 L141.97,171.35 L142.15,171.34 L142.34,171.34 L142.52,171.34 L142.70,171.34 L142.89,171.34 L143.07,171.33 L143.26,171.33 L143.44,171.33 L143.62,171.33 L143.81,171.33 L143.99,171.32 L144.18,171.32 L144.36,171.32 L144.54,171.32 L144.73,171.31 L144.91,171.31 L145.10,171.31 L145.28,171.31 L145.46,171.31 L145.65,171.30 L145.83,171.30 L146.02,171.30 L146.20,171.30 L146.38,171.30 L146.57,171.29 L146.75,171.29 L146.94,171.29 L147.12,171.29 L147.30,171.28 L147.49,171.28 L147.67,171.28 L147.86,171.28 L148.04,171.28 L148.22,171.27 L148.41,171.27 L148.59,171.27 L148.78,171.27 L148.96,171.27 L149.14,171.26 L149.33,171.26 L149.51,171.26 L149.70,171.26 L149.88,171.26 L150.06,171.25 L150.25,171.25 L150.43,171.25 L150.62,171.25 L150.80,171.24 L150.98,171.24 L151.17,171.24 L151.35,171.24 L151.54,171.24 L151.72,171.23 L151.90,171.23 L152.09,171.23 L152.27,171.23 L152.46,171.23 L152.64,171.22 L152.82,171.22 L153.01,171.22 L153.19,171.22 L153.38,171.22 L153.56,171.21 L153.74,171.21 L153.93,171.21 L154.11,171.21 L154.30,171.21 L154.48,171.20 L154.66,171.20 L154.85,171.20 L155.03,171.20 L155.22,171.20 L155.40,171.19 L155.58,171.19 L155.77,171.19 L155.95,171.19 L156.14,171.19 L156.32,171.18 L156.50,171.18 L156.69,171.18 L156.87,171.18 L157.06,171.18 L157.24,171.17 L157.42,171.17 L157.61,171.17 L157.79,171.17 L157.98,171.17 L158.16,171.16 L158.34,171.16 L158.53,171.16 L158.71,171.16 L158.90,171.16 L159.08,171.15 L159.26,171.15 L159.45,171.15 L159.63,171.15 L159.82,171.15 L160.00,171.14 L160.18,171.14 L160.37,171.14 L160.55,171.14 L160.74,171.14 L160.92,171.13 L161.10,171.13 L161.29,171.13 L161.47,171.13 L161.66,171.13 L161.84,171.13 L162.02,171.12 L162.21,171.12 L162.39,171.12 L162.58,171.12 L162.76,171.12 L162.94,171.11 L163.13,171.11 L163.31,171.11 L163.50,171.11 L163.68,171.11 L163.86,171.10 L164.05,171.10 L164.23,171.10 L164.42,171.10 L164.60,171.10 L164.78,171.10 L164.97,171.09 L165.15,171.09 L165.34,171.09 L165.52,171.09 L165.70,171.09 L165.89,171.09 L166.07,171.08 L166.26,171.08 L166.44,171.08 L166.62,171.08 L166.81,171.08 L166.99,171.07 L167.18,171.07 L167.36,171.07 L167.54,171.07 L167.73,171.07 L167.91,171.07 L168.10,171.06 L168.28,171.06 L168.46,171.06 L168.65,171.06 L168.83,171.06 L169.02,171.06 L169.20,171.05 L169.38,171.05 L169.57,171.05 L169.75,171.05 L169.94,171.05 L170.12,171.05 L170.30,171.04 L170.49,171.04 L170.67,171.04 L170.86,171.04 L171.04,171.04 L171.22,171.04 L171.41,171.03 L171.59,171.03 L171.78,171.03 L171.96,171.03 L172.14,171.03 L172.33,171.03 L172.51,171.02 L172.70,171.02 L172.88,171.02 L173.06,171.02 L173.25,171.02 L173.43,171.02 L173.62,171.01 L173.80,171.01 L173.98,171.01 L174.17,171.01 L174.35,171.01 L174.54,171.01 L174.72,171.01 L174.90,171.00 L175.09,171.00 L175.27,171.00 L175.46,171.00 L175.64,171.00 L175.82,171.00 L176.01,171.00 L176.19,170.99 L176.38,170.99 L176.56,170.99 L176.74,170.99 L176.93,170.99 L177.11,170.99 L177.30,170.98 L177.48,170.98 L177.66,170.98 L177.85,170.98 L178.03,170.98 L178.22,170.98 L178.40,170.98 L178.58,170.97 L178.77,170.97 L178.95,170.97 L179.14,170.97 L179.32,170.97 L179.50,170.97 L179.69,170.97 L179.87,170.97 L180.06,170.96 L180.24,170.96 L180.42,170.96 L180.61,170.96 L180.79,170.96 L180.98,170.96 L181.16,170.96 L181.34,170.95 L181.53,170.95 L181.71,170.95 L181.90,170.95 L182.08,170.95 L182.26,170.95 L182.45,170.95 L182.63,170.95 L182.82,170.94 L183.00,170.94 L183.18,170.94 L183.37,170.94 L183.55,170.94 L183.74,170.94 L183.92,170.94 L184.10,170.94 L184.29,170.94 L184.47,170.93 L184.66,170.93 L184.84,170.93 L185.02,170.93 L185.21,170.93 L185.39,170.93 L185.58,170.93 L185.76,170.93 L185.94,170.92 L186.13,170.92 L186.31,170.92 L186.50,170.92 L186.68,170.92 L186.86,170.92 L187.05,170.92 L187.23,170.92 L187.42,170.92 L187.60,170.92 L187.78,170.91 L187.97,170.91 L188.15,170.91 L188.34,170.91 L188.52,170.91 L188.70,170.91 L188.89,170.91 L189.07,170.91 L189.26,170.91 L189.44,170.91 L189.62,170.90 L189.81,170.90 L189.99,170.90 L190.18,170.90 L190.36,170.90 L190.54,170.90 L190.73,170.90 L190.91,170.90 L191.10,170.90 L191.28,170.90 L191.46,170.90 L191.65,170.89 L191.83,170.89 L192.02,170.89 L192.20,170.89 L192.38,170.89 L192.57,170.89 L192.75,170.89 L192.94,170.89 L193.12,170.89 L193.30,170.89 L193.49,170.89 L193.67,170.89 L193.86,170.89 L194.04,170.88 L194.22,170.88 L194.41,170.88 L194.59,170.88 L194.78,170.88 L194.96,170.88 L195.14,170.88 L195.33,170.88 L195.51,170.88 L195.70,170.88 L195.88,170.88 L196.06,170.88 L196.25,170.88 L196.43,170.88 L196.62,170.87 L196.80,170.87 L196.98,170.87 L197.17,170.87 L197.35,170.87 L197.54,170.87 L197.72,170.87 L197.90,170.87 L198.09,170.87 L198.27,170.87 L198.46,170.87 L198.64,170.87 L198.82,170.87 L199.01,170.87 L199.19,170.87 L199.38,170.87 L199.56,170.87 L199.74,170.87 L199.93,170.87 L200.11,170.86 L200.30,170.86 L200.48,170.86 L200.66,170.86 L200.85,170.86 L201.03,170.86 L201.22,170.86 L201.40,170.86 L201.58,170.86 L201.77,170.86 L201.95,170.86 L202.14,170.86 L202.32,170.86 L202.50,170.86 L202.69,170.86 L202.87,170.86 L203.06,170.86 L203.24,170.86 L203.42,170.86 L203.61,170.86 L203.79,170.86 L203.98,170.86 L204.16,170.86 L204.34,170.86 L204.53,170.86 L204.71,170.86 L204.90,170.86 L205.08,170.86 L205.26,170.86 L205.45,170.86 L205.63,170.86 L205.82,170.86 L206.00,170.86" fill="none" stroke="#1a1a1a" stroke-width="1.05" stroke-linejoin="round"/>
<line x1="49.60" y1="277.3" x2="49.60" y2="279.1" stroke="#555" stroke-width="0.5"/>
<text x="49.60" y="285.7" class="ss tk3" text-anchor="middle">0</text>
<line x1="86.40" y1="277.3" x2="86.40" y2="279.1" stroke="#555" stroke-width="0.5"/>
<text x="86.40" y="285.7" class="ss tk3" text-anchor="middle">2000</text>
<line x1="123.20" y1="277.3" x2="123.20" y2="279.1" stroke="#555" stroke-width="0.5"/>
<text x="123.20" y="285.7" class="ss tk3" text-anchor="middle">4000</text>
<line x1="160.00" y1="277.3" x2="160.00" y2="279.1" stroke="#555" stroke-width="0.5"/>
<text x="160.00" y="285.7" class="ss tk3" text-anchor="middle">6000</text>
<line x1="196.80" y1="277.3" x2="196.80" y2="279.1" stroke="#555" stroke-width="0.5"/>
<text x="196.80" y="285.7" class="ss tk3" text-anchor="middle">8000</text>
<line x1="39.7" y1="260.20" x2="41.5" y2="260.20" stroke="#555" stroke-width="0.5"/>
<text x="38.1" y="262.40" class="ss tk3" text-anchor="end">0.2</text>
<line x1="39.7" y1="237.35" x2="41.5" y2="237.35" stroke="#555" stroke-width="0.5"/>
<text x="38.1" y="239.55" class="ss tk3" text-anchor="end">0.4</text>
<line x1="39.7" y1="214.50" x2="41.5" y2="214.50" stroke="#555" stroke-width="0.5"/>
<text x="38.1" y="216.70" class="ss tk3" text-anchor="end">0.6</text>
<line x1="39.7" y1="191.65" x2="41.5" y2="191.65" stroke="#555" stroke-width="0.5"/>
<text x="38.1" y="193.85" class="ss tk3" text-anchor="end">0.8</text>
<line x1="39.7" y1="168.80" x2="41.5" y2="168.80" stroke="#555" stroke-width="0.5"/>
<text x="38.1" y="171.00" class="ss tk3" text-anchor="end">1.0</text>
<text x="127.4" y="294.9" class="ss al3" text-anchor="middle">Iteration</text>
<text transform="translate(25.9,221.9) rotate(-90)" class="ss al3" text-anchor="middle">Accuracy</text>
<rect x="155.4" y="231.5" width="55.4" height="42.0" rx="1.5" fill="#fff" fill-opacity="0.8" stroke="#dcdcdc" stroke-width="0.6"/>
<line x1="157.6" y1="237.3" x2="171.8" y2="237.3" stroke="#1f1fff" stroke-width="1.4" stroke-opacity="0.62"/>
<text x="176.6" y="239.80" class="ss lg3">GD</text>
<line x1="157.6" y1="247.6" x2="171.8" y2="247.6" stroke="#d81ed8" stroke-width="1.4" stroke-opacity="0.62"/>
<text x="176.6" y="250.10" class="ss lg3">Adagrad</text>
<line x1="157.6" y1="257.6" x2="171.8" y2="257.6" stroke="#1e961e" stroke-width="1.4" stroke-opacity="0.62"/>
<text x="176.6" y="260.10" class="ss lg3">Adam</text>
<line x1="157.6" y1="267.7" x2="171.8" y2="267.7" stroke="#1a1a1a" stroke-width="1.4" stroke-opacity="0.62"/>
<text x="176.6" y="270.20" class="ss lg3">Proposed</text>
<text x="6.6" y="163.9" class="cap">(<tspan class="bd">a</tspan>) Training cost</text>
<text x="335.2" y="163.9" class="cap">(<tspan class="bd">b</tspan>) Training accuracy</text>
<text x="6.4" y="320.9" class="cap" style="font-size:13.8px">(<tspan class="bd">c</tspan>) Validation accuracy</text>
</svg>
</body></html>
